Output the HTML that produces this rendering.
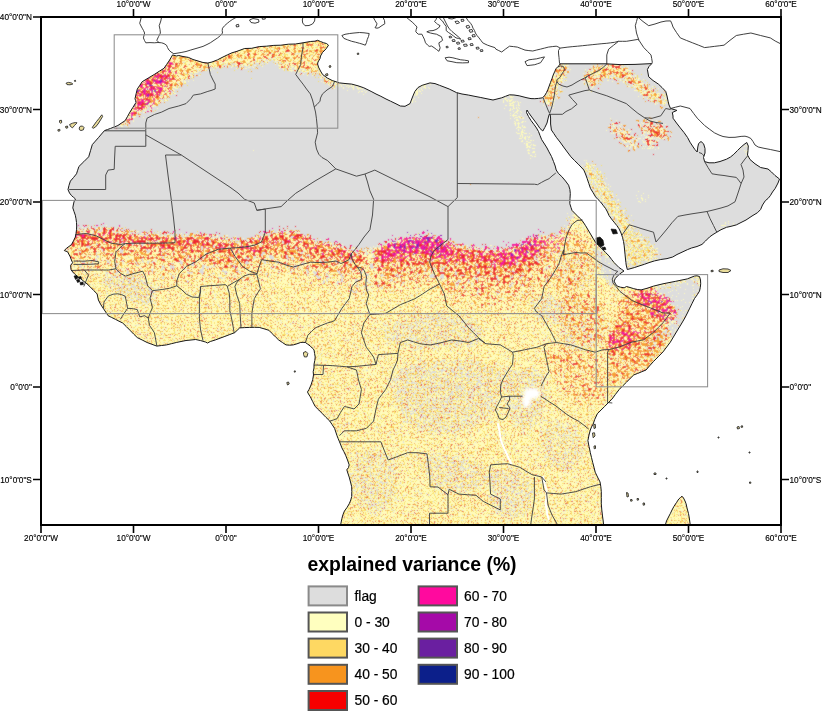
<!DOCTYPE html>
<html><head><meta charset="utf-8"><title>explained variance map</title>
<style>html,body{margin:0;padding:0;background:#fff;}svg{display:block;}</style>
</head><body><svg width="822" height="713" viewBox="0 0 822 713"><defs><clipPath id="cf"><rect x="41" y="17" width="740" height="508"/></clipPath><filter id="soft" x="0" y="0" width="822" height="713" filterUnits="userSpaceOnUse"><feConvolveMatrix order="3" kernelMatrix="1 2 1 2 14 2 1 2 1" edgeMode="none"/></filter><filter id="lk" x="500" y="370" width="60" height="50" filterUnits="userSpaceOnUse"><feGaussianBlur stdDeviation="1.5"/></filter><clipPath id="cl"><path d="M172.6,54.9 L176.3,56.0 L178.7,55.5 L183.0,56.5 L188.4,57.4 L193.0,59.5 L198.1,61.0 L203.0,62.5 L207.9,63.0 L212.0,62.0 L217.6,59.8 L222.0,57.5 L227.3,54.9 L232.0,52.8 L237.0,51.3 L244.6,48.5 L251.7,48.3 L259.2,46.6 L266.3,46.2 L273.8,45.4 L280.9,45.2 L288.4,44.2 L295.5,44.0 L303.0,42.8 L310.3,41.5 L314.9,41.2 L317.6,40.3 L320.5,41.5 L323.7,42.8 L326.5,43.5 L328.5,45.2 L326.1,48.8 L322.5,52.5 L320.5,56.0 L320.0,58.6 L318.0,62.0 L317.6,64.0 L318.5,67.1 L320.5,71.0 L322.5,74.4 L327.3,78.0 L332.2,80.5 L339.5,82.9 L345.0,83.5 L351.7,84.1 L358.0,85.8 L363.8,87.8 L371.1,91.4 L376.0,94.0 L380.9,96.3 L386.0,99.0 L390.6,101.2 L396.0,103.8 L400.3,106.0 L405.0,106.3 L410.0,103.6 L412.5,97.0 L414.9,91.4 L418.0,87.5 L422.2,85.3 L430.0,82.9 L435.0,83.6 L439.5,85.3 L444.0,87.0 L449.2,89.0 L456.5,92.6 L462.0,94.0 L468.7,95.1 L474.0,96.2 L480.8,97.5 L487.0,98.8 L493.0,100.0 L497.0,99.0 L501.7,97.8 L505.5,96.3 L509.5,94.8 L514.0,95.0 L519.2,95.8 L523.0,96.8 L527.0,97.8 L531.0,98.6 L534.8,98.7 L538.5,98.4 L542.6,97.8 L545.0,95.1 L546.5,92.5 L547.8,89.7 L549.2,86.0 L550.5,82.4 L552.0,78.5 L553.2,75.0 L554.6,71.8 L556.0,68.7 L558.0,66.5 L559.6,65.0 L560.0,63.8 L575.0,63.8 L590.0,63.8 L606.0,63.8 L620.0,64.6 L635.0,64.4 L651.8,63.6 L649.0,66.5 L647.4,69.5 L648.0,73.0 L648.7,76.8 L653.0,80.5 L658.4,84.1 L662.0,87.5 L665.7,91.4 L667.0,96.0 L668.1,101.2 L669.0,105.0 L670.6,108.5 L676.9,110.4 L672.3,112.5 L673.0,116.0 L673.0,118.2 L676.5,123.0 L680.3,127.9 L684.0,132.5 L687.6,137.6 L690.0,142.2 L692.5,146.0 L694.9,149.5 L697.2,152.0 L697.8,147.0 L698.6,143.5 L701.0,141.5 L703.6,143.8 L705.0,148.5 L705.0,153.0 L703.5,157.5 L704.6,161.6 L709.0,162.8 L714.4,162.8 L720.0,161.5 L726.5,159.2 L730.5,157.0 L733.8,154.3 L737.5,150.5 L741.1,147.0 L744.0,144.5 L746.8,142.5 L748.3,146.0 L748.0,150.5 L747.5,155.0 L750.0,159.5 L755.0,163.8 L760.6,167.5 L765.0,168.4 L768.0,169.0 L771.5,172.0 L775.0,175.5 L779.5,179.0 L778.0,183.0 L775.2,188.4 L772.5,192.0 L770.3,195.7 L768.0,198.5 L765.4,200.6 L762.5,205.0 L760.6,209.5 L757.5,212.7 L752.0,216.0 L746.0,220.0 L741.0,222.5 L736.3,224.9 L731.0,226.3 L726.5,227.3 L721.0,229.7 L716.8,232.2 L713.0,234.5 L709.5,237.0 L705.5,241.0 L702.0,244.4 L697.0,246.5 L691.5,248.0 L687.3,249.7 L682.0,252.2 L677.0,254.5 L672.7,257.0 L667.0,258.6 L660.8,259.5 L654.5,260.9 L649.0,262.6 L644.4,264.3 L639.0,266.0 L634.3,267.6 L630.0,268.8 L627.3,269.5 L626.2,265.0 L625.9,262.6 L625.4,258.0 L625.0,254.2 L624.6,250.0 L624.2,245.8 L623.5,241.5 L622.5,237.3 L621.0,233.0 L619.1,228.9 L616.8,225.5 L614.1,222.2 L611.5,219.0 L609.0,215.5 L607.5,212.0 L605.7,208.7 L603.0,205.2 L600.6,202.0 L598.0,199.5 L595.6,196.9 L593.0,192.5 L590.5,188.5 L588.8,183.5 L587.1,178.4 L585.5,174.0 L583.8,170.0 L581.0,167.0 L578.2,164.1 L574.5,160.5 L570.9,156.8 L567.3,152.0 L563.6,147.0 L560.0,142.0 L556.3,137.3 L553.8,133.5 L551.4,130.0 L550.6,124.0 L550.6,118.0 L550.2,114.6 L549.2,114.4 L548.2,118.0 L547.0,123.0 L544.8,127.5 L542.8,131.0 L540.0,128.5 L537.0,124.0 L534.0,120.0 L531.0,116.0 L528.5,112.5 L527.0,110.0 L526.5,112.5 L528.5,116.5 L531.0,120.5 L534.0,124.5 L536.5,128.0 L538.5,131.5 L540.0,135.5 L541.7,139.7 L544.5,144.0 L547.0,148.0 L549.0,151.9 L551.5,156.5 L553.5,161.5 L555.2,166.0 L556.2,170.0 L558.5,173.5 L561.9,176.7 L565.5,181.0 L568.6,185.2 L569.9,189.5 L570.3,193.6 L570.0,198.5 L569.8,203.7 L571.0,207.5 L572.0,210.4 L574.5,213.0 L577.0,215.5 L579.5,218.0 L582.1,220.5 L583.8,223.0 L585.5,225.6 L588.0,229.8 L590.5,234.0 L593.0,238.2 L595.6,242.4 L599.0,245.8 L602.3,249.1 L605.6,252.5 L609.0,255.9 L611.5,259.3 L614.1,262.6 L616.6,265.1 L619.1,267.6 L621.6,269.3 L624.0,271.0 L621.0,273.0 L617.4,276.0 L615.3,278.5 L614.1,281.1 L615.5,284.0 L617.4,286.2 L620.5,287.2 L624.2,287.8 L626.5,286.5 L630.0,287.5 L633.8,288.7 L637.5,289.5 L641.1,289.9 L647.0,288.3 L653.3,286.2 L658.0,285.0 L663.0,283.8 L669.0,282.6 L675.2,281.4 L681.0,280.2 L687.3,278.9 L691.0,277.4 L694.6,276.0 L697.0,275.8 L699.5,276.5 L700.5,280.0 L700.7,283.8 L700.3,287.5 L699.5,291.1 L697.3,294.7 L694.6,298.4 L692.2,303.2 L689.8,308.1 L687.4,313.0 L684.9,317.9 L681.3,324.0 L677.6,330.0 L674.0,336.0 L670.3,342.2 L666.7,347.0 L663.0,351.9 L658.2,356.8 L653.3,361.7 L649.6,365.8 L646.0,370.0 L641.1,372.0 L637.5,373.5 L633.8,374.9 L630.1,378.5 L626.5,382.2 L622.8,385.8 L619.2,389.5 L615.5,394.3 L611.9,399.2 L608.2,402.8 L604.6,406.5 L601.0,410.0 L597.3,413.8 L594.7,419.5 L593.2,424.0 L591.5,427.0 L590.3,430.0 L589.0,435.0 L587.9,440.6 L589.0,446.5 L589.8,450.0 L590.3,452.7 L591.5,457.5 L592.7,462.5 L594.0,467.3 L595.2,472.2 L597.5,477.0 L600.0,481.9 L600.8,486.5 L601.3,491.7 L601.3,497.5 L601.3,503.8 L601.8,510.0 L602.5,516.0 L603.2,521.0 L603.7,526.0 L340.5,526.0 L340.7,524.5 L341.9,518.4 L343.0,514.5 L344.4,511.1 L347.0,507.5 L349.2,503.8 L350.8,500.0 L351.7,496.5 L351.8,491.5 L351.7,486.8 L350.5,482.0 L349.2,477.1 L347.8,473.0 L346.8,469.8 L348.5,467.5 L349.2,464.9 L347.5,460.0 L345.6,455.2 L343.8,451.5 L341.9,447.9 L340.8,445.0 L339.5,441.8 L338.2,438.7 L337.0,435.7 L335.8,432.0 L334.6,428.4 L332.2,424.7 L329.8,421.1 L326.0,417.4 L322.5,413.8 L318.8,410.0 L315.2,406.5 L312.7,401.6 L310.3,396.8 L308.5,394.0 L307.5,392.0 L309.0,389.5 L311.0,385.0 L312.7,379.7 L313.5,375.0 L313.2,371.7 L314.0,368.0 L314.0,364.4 L314.8,360.5 L315.2,357.0 L314.6,353.5 L314.0,349.8 L312.2,348.0 L310.3,346.1 L307.8,344.2 L305.4,342.5 L303.0,342.3 L300.6,342.5 L297.0,343.8 L293.3,344.9 L289.6,345.2 L286.0,344.9 L282.4,342.5 L278.7,340.0 L276.2,337.6 L273.8,335.2 L271.3,332.8 L268.9,330.3 L264.0,328.8 L259.2,327.4 L254.4,327.3 L249.5,327.4 L244.6,327.6 L239.7,327.9 L237.2,330.3 L234.6,332.7 L229.8,334.5 L224.9,336.4 L220.0,338.2 L215.2,340.0 L210.3,341.5 L207.5,343.0 L205.5,342.0 L200.6,340.6 L195.7,339.5 L191.0,340.0 L186.0,340.5 L181.0,341.5 L176.3,342.5 L171.4,343.7 L166.5,344.9 L161.6,345.5 L156.8,346.1 L151.9,344.3 L147.1,342.5 L142.2,340.0 L137.3,337.6 L133.6,334.0 L130.0,330.3 L126.3,326.6 L122.7,323.0 L119.0,321.2 L115.4,319.3 L111.7,317.5 L108.1,315.7 L105.7,312.0 L103.3,308.4 L100.8,304.7 L98.4,300.0 L97.1,293.9 L93.7,290.5 L90.4,287.1 L87.0,283.8 L84.0,281.5 L80.5,278.5 L77.5,276.5 L75.2,274.5 L72.7,272.0 L71.0,269.5 L70.6,265.3 L72.7,262.7 L71.8,261.0 L70.2,256.8 L67.6,251.8 L64.3,250.6 L66.5,248.2 L69.0,246.5 L71.6,244.4 L73.5,240.8 L75.3,237.1 L76.0,233.5 L76.5,229.8 L76.7,226.0 L76.5,222.5 L76.0,218.8 L75.3,215.2 L74.0,211.5 L72.8,207.9 L73.3,205.0 L74.0,201.8 L75.5,199.0 L73.5,197.3 L71.6,195.7 L69.5,193.0 L68.0,189.6 L69.0,185.3 L70.4,181.1 L73.5,177.5 L76.5,173.8 L77.7,170.2 L78.9,166.5 L83.8,161.7 L88.7,156.8 L90.5,150.7 L92.3,144.6 L95.4,141.1 L98.4,137.7 L101.5,134.0 L104.5,130.6 L107.5,129.5 L110.6,128.4 L114.2,127.0 L117.9,125.5 L121.5,123.0 L125.2,120.6 L127.6,116.3 L130.0,112.0 L133.0,107.2 L136.0,102.4 L135.5,100.5 L135.0,98.7 L136.1,93.8 L137.3,89.0 L139.8,85.3 L142.2,81.7 L148.3,78.0 L154.4,74.4 L159.2,71.3 L164.0,68.3 L166.5,64.6 L169.0,61.0 L170.8,58.0 L172.6,54.9Z"/><path d="M665.0,526.0 L666.5,521.0 L668.5,517.0 L670.3,513.6 L672.0,510.0 L674.0,506.3 L676.5,502.5 L678.8,499.0 L680.5,497.5 L682.0,496.2 L683.5,498.0 L685.0,501.0 L686.1,503.8 L687.0,508.0 L688.5,513.6 L689.3,518.0 L690.2,524.5 L690.5,526.0 L690.5,530.0 L665.0,530.0Z"/></clipPath><filter id="tb" x="-40" y="-40" width="900" height="800" filterUnits="userSpaceOnUse" color-interpolation-filters="sRGB"><feGaussianBlur in="SourceGraphic" stdDeviation="2.5" result="d"/><feTurbulence type="fractalNoise" baseFrequency="0.6" numOctaves="2" seed="11" result="n"/><feColorMatrix in="n" type="matrix" values="1 0 0 0 0 1 0 0 0 0 1 0 0 0 0 0 0 0 0 1" result="gr"/><feComponentTransfer in="gr" result="u"><feFuncR type="table" tableValues="0.0 0.0 0.0 0.0 0.0001 0.0005 0.002 0.0058 0.0146 0.0311 0.0582 0.0982 0.1508 0.2167 0.2968 0.3926 0.4938 0.6107 0.7058 0.7847 0.8488 0.9001 0.9388 0.9662 0.9844 0.9937 0.9977 0.9994 0.9999 1.0 1.0 1.0 1.0"/></feComponentTransfer><feComposite in="u" in2="d" operator="arithmetic" k1="0" k2="0.5" k3="0.5" k4="0" result="s"/><feComponentTransfer in="s" result="m"><feFuncR type="discrete" tableValues="0 1"/></feComponentTransfer><feColorMatrix in="m" type="matrix" values="0 0 0 0 1.000 0 0 0 0 0.988 0 0 0 0 0.737 1 0 0 0 0" result="c"/></filter><filter id="ty" x="-40" y="-40" width="900" height="800" filterUnits="userSpaceOnUse" color-interpolation-filters="sRGB"><feGaussianBlur in="SourceGraphic" stdDeviation="3" result="d"/><feTurbulence type="fractalNoise" baseFrequency="0.7" numOctaves="2" seed="23" result="n"/><feColorMatrix in="n" type="matrix" values="1 0 0 0 0 1 0 0 0 0 1 0 0 0 0 0 0 0 0 1" result="gr"/><feComponentTransfer in="gr" result="u"><feFuncR type="table" tableValues="0.0 0.0 0.0 0.0 0.0001 0.0005 0.002 0.0058 0.0146 0.0311 0.0582 0.0982 0.1508 0.2167 0.2968 0.3926 0.4938 0.6107 0.7058 0.7847 0.8488 0.9001 0.9388 0.9662 0.9844 0.9937 0.9977 0.9994 0.9999 1.0 1.0 1.0 1.0"/></feComponentTransfer><feComposite in="u" in2="d" operator="arithmetic" k1="0" k2="0.5" k3="0.5" k4="0" result="s"/><feComponentTransfer in="s" result="m"><feFuncR type="discrete" tableValues="0 1"/></feComponentTransfer><feColorMatrix in="m" type="matrix" values="0 0 0 0 0.976 0 0 0 0 0.878 0 0 0 0 0.392 1 0 0 0 0" result="c"/></filter><filter id="tof" x="-40" y="-40" width="900" height="800" filterUnits="userSpaceOnUse" color-interpolation-filters="sRGB"><feGaussianBlur in="SourceGraphic" stdDeviation="3" result="d"/><feTurbulence type="fractalNoise" baseFrequency="0.7" numOctaves="2" seed="31" result="n"/><feColorMatrix in="n" type="matrix" values="1 0 0 0 0 1 0 0 0 0 1 0 0 0 0 0 0 0 0 1" result="gr"/><feComponentTransfer in="gr" result="u"><feFuncR type="table" tableValues="0.0 0.0 0.0 0.0 0.0001 0.0005 0.002 0.0058 0.0146 0.0311 0.0582 0.0982 0.1508 0.2167 0.2968 0.3926 0.4938 0.6107 0.7058 0.7847 0.8488 0.9001 0.9388 0.9662 0.9844 0.9937 0.9977 0.9994 0.9999 1.0 1.0 1.0 1.0"/></feComponentTransfer><feComposite in="u" in2="d" operator="arithmetic" k1="0" k2="0.5" k3="0.5" k4="0" result="s"/><feComponentTransfer in="s" result="m"><feFuncR type="discrete" tableValues="0 1"/></feComponentTransfer><feColorMatrix in="m" type="matrix" values="0 0 0 0 0.941 0 0 0 0 0.604 0 0 0 0 0.235 1 0 0 0 0" result="c"/></filter><filter id="trf" x="-40" y="-40" width="900" height="800" filterUnits="userSpaceOnUse" color-interpolation-filters="sRGB"><feGaussianBlur in="SourceGraphic" stdDeviation="3" result="d"/><feTurbulence type="fractalNoise" baseFrequency="0.7" numOctaves="2" seed="41" result="n"/><feColorMatrix in="n" type="matrix" values="1 0 0 0 0 1 0 0 0 0 1 0 0 0 0 0 0 0 0 1" result="gr"/><feComponentTransfer in="gr" result="u"><feFuncR type="table" tableValues="0.0 0.0 0.0 0.0 0.0001 0.0005 0.002 0.0058 0.0146 0.0311 0.0582 0.0982 0.1508 0.2167 0.2968 0.3926 0.4938 0.6107 0.7058 0.7847 0.8488 0.9001 0.9388 0.9662 0.9844 0.9937 0.9977 0.9994 0.9999 1.0 1.0 1.0 1.0"/></feComponentTransfer><feComposite in="u" in2="d" operator="arithmetic" k1="0" k2="0.5" k3="0.5" k4="0" result="s"/><feComponentTransfer in="s" result="m"><feFuncR type="discrete" tableValues="0 1"/></feComponentTransfer><feColorMatrix in="m" type="matrix" values="0 0 0 0 0.910 0 0 0 0 0.220 0 0 0 0 0.227 1 0 0 0 0" result="c"/></filter><filter id="tgf" x="-40" y="-40" width="900" height="800" filterUnits="userSpaceOnUse" color-interpolation-filters="sRGB"><feGaussianBlur in="SourceGraphic" stdDeviation="3" result="d"/><feTurbulence type="fractalNoise" baseFrequency="0.6" numOctaves="2" seed="47" result="n"/><feColorMatrix in="n" type="matrix" values="1 0 0 0 0 1 0 0 0 0 1 0 0 0 0 0 0 0 0 1" result="gr"/><feComponentTransfer in="gr" result="u"><feFuncR type="table" tableValues="0.0 0.0 0.0 0.0 0.0001 0.0005 0.002 0.0058 0.0146 0.0311 0.0582 0.0982 0.1508 0.2167 0.2968 0.3926 0.4938 0.6107 0.7058 0.7847 0.8488 0.9001 0.9388 0.9662 0.9844 0.9937 0.9977 0.9994 0.9999 1.0 1.0 1.0 1.0"/></feComponentTransfer><feComposite in="u" in2="d" operator="arithmetic" k1="0" k2="0.5" k3="0.5" k4="0" result="s"/><feComponentTransfer in="s" result="m"><feFuncR type="discrete" tableValues="0 1"/></feComponentTransfer><feColorMatrix in="m" type="matrix" values="0 0 0 0 0.863 0 0 0 0 0.863 0 0 0 0 0.863 1 0 0 0 0" result="c"/></filter><filter id="tgb" x="-40" y="-40" width="900" height="800" filterUnits="userSpaceOnUse" color-interpolation-filters="sRGB"><feGaussianBlur in="SourceGraphic" stdDeviation="3" result="d"/><feTurbulence type="fractalNoise" baseFrequency="0.2" numOctaves="3" seed="61" result="n"/><feColorMatrix in="n" type="matrix" values="1 0 0 0 0 1 0 0 0 0 1 0 0 0 0 0 0 0 0 1" result="gr"/><feComponentTransfer in="gr" result="u"><feFuncR type="table" tableValues="0.0 0.0 0.0 0.0 0.0002 0.0008 0.0027 0.0074 0.0172 0.035 0.0635 0.1027 0.1556 0.2221 0.3022 0.396 0.4906 0.6077 0.7002 0.7796 0.8436 0.8954 0.9341 0.9626 0.981 0.9916 0.9968 0.999 0.9997 0.9999 1.0 1.0 1.0"/></feComponentTransfer><feComposite in="u" in2="d" operator="arithmetic" k1="0" k2="0.5" k3="0.5" k4="0" result="s"/><feComponentTransfer in="s" result="m"><feFuncR type="discrete" tableValues="0 1"/></feComponentTransfer><feColorMatrix in="m" type="matrix" values="0 0 0 0 0.863 0 0 0 0 0.863 0 0 0 0 0.863 1 0 0 0 0" result="c"/></filter><filter id="to" x="-40" y="-40" width="900" height="800" filterUnits="userSpaceOnUse" color-interpolation-filters="sRGB"><feGaussianBlur in="SourceGraphic" stdDeviation="3" result="d"/><feTurbulence type="fractalNoise" baseFrequency="0.3" numOctaves="3" seed="37" result="n"/><feColorMatrix in="n" type="matrix" values="1 0 0 0 0 1 0 0 0 0 1 0 0 0 0 0 0 0 0 1" result="gr"/><feComponentTransfer in="gr" result="u"><feFuncR type="table" tableValues="0.0 0.0 0.0 0.0 0.0002 0.0008 0.0027 0.0074 0.0172 0.035 0.0635 0.1027 0.1556 0.2221 0.3022 0.396 0.4906 0.6077 0.7002 0.7796 0.8436 0.8954 0.9341 0.9626 0.981 0.9916 0.9968 0.999 0.9997 0.9999 1.0 1.0 1.0"/></feComponentTransfer><feComposite in="u" in2="d" operator="arithmetic" k1="0" k2="0.5" k3="0.5" k4="0" result="s"/><feComponentTransfer in="s" result="m"><feFuncR type="discrete" tableValues="0 1"/></feComponentTransfer><feColorMatrix in="m" type="matrix" values="0 0 0 0 0.965 0 0 0 0 0.627 0 0 0 0 0.208 1 0 0 0 0" result="c"/></filter><filter id="tr" x="-40" y="-40" width="900" height="800" filterUnits="userSpaceOnUse" color-interpolation-filters="sRGB"><feGaussianBlur in="SourceGraphic" stdDeviation="3" result="d"/><feTurbulence type="fractalNoise" baseFrequency="0.32" numOctaves="3" seed="53" result="n"/><feColorMatrix in="n" type="matrix" values="1 0 0 0 0 1 0 0 0 0 1 0 0 0 0 0 0 0 0 1" result="gr"/><feComponentTransfer in="gr" result="u"><feFuncR type="table" tableValues="0.0 0.0 0.0 0.0 0.0002 0.0008 0.0027 0.0074 0.0172 0.035 0.0635 0.1027 0.1556 0.2221 0.3022 0.396 0.4906 0.6077 0.7002 0.7796 0.8436 0.8954 0.9341 0.9626 0.981 0.9916 0.9968 0.999 0.9997 0.9999 1.0 1.0 1.0"/></feComponentTransfer><feComposite in="u" in2="d" operator="arithmetic" k1="0" k2="0.5" k3="0.5" k4="0" result="s"/><feComponentTransfer in="s" result="m"><feFuncR type="discrete" tableValues="0 1"/></feComponentTransfer><feColorMatrix in="m" type="matrix" values="0 0 0 0 0.933 0 0 0 0 0.165 0 0 0 0 0.188 1 0 0 0 0" result="c"/></filter><filter id="tm" x="-40" y="-40" width="900" height="800" filterUnits="userSpaceOnUse" color-interpolation-filters="sRGB"><feGaussianBlur in="SourceGraphic" stdDeviation="3" result="d"/><feTurbulence type="fractalNoise" baseFrequency="0.32" numOctaves="3" seed="71" result="n"/><feColorMatrix in="n" type="matrix" values="1 0 0 0 0 1 0 0 0 0 1 0 0 0 0 0 0 0 0 1" result="gr"/><feComponentTransfer in="gr" result="u"><feFuncR type="table" tableValues="0.0 0.0 0.0 0.0 0.0002 0.0008 0.0027 0.0074 0.0172 0.035 0.0635 0.1027 0.1556 0.2221 0.3022 0.396 0.4906 0.6077 0.7002 0.7796 0.8436 0.8954 0.9341 0.9626 0.981 0.9916 0.9968 0.999 0.9997 0.9999 1.0 1.0 1.0"/></feComponentTransfer><feComposite in="u" in2="d" operator="arithmetic" k1="0" k2="0.5" k3="0.5" k4="0" result="s"/><feComponentTransfer in="s" result="m"><feFuncR type="discrete" tableValues="0 1"/></feComponentTransfer><feColorMatrix in="m" type="matrix" values="0 0 0 0 0.957 0 0 0 0 0.110 0 0 0 0 0.612 1 0 0 0 0" result="c"/></filter><filter id="tp" x="-40" y="-40" width="900" height="800" filterUnits="userSpaceOnUse" color-interpolation-filters="sRGB"><feGaussianBlur in="SourceGraphic" stdDeviation="3" result="d"/><feTurbulence type="fractalNoise" baseFrequency="0.3" numOctaves="3" seed="89" result="n"/><feColorMatrix in="n" type="matrix" values="1 0 0 0 0 1 0 0 0 0 1 0 0 0 0 0 0 0 0 1" result="gr"/><feComponentTransfer in="gr" result="u"><feFuncR type="table" tableValues="0.0 0.0 0.0 0.0 0.0002 0.0008 0.0027 0.0074 0.0172 0.035 0.0635 0.1027 0.1556 0.2221 0.3022 0.396 0.4906 0.6077 0.7002 0.7796 0.8436 0.8954 0.9341 0.9626 0.981 0.9916 0.9968 0.999 0.9997 0.9999 1.0 1.0 1.0"/></feComponentTransfer><feComposite in="u" in2="d" operator="arithmetic" k1="0" k2="0.5" k3="0.5" k4="0" result="s"/><feComponentTransfer in="s" result="m"><feFuncR type="discrete" tableValues="0 1"/></feComponentTransfer><feColorMatrix in="m" type="matrix" values="0 0 0 0 0.565 0 0 0 0 0.141 0 0 0 0 0.722 1 0 0 0 0" result="c"/></filter></defs><g clip-path="url(#cf)"><path d="M172.6,54.9 L176.3,56.0 L178.7,55.5 L183.0,56.5 L188.4,57.4 L193.0,59.5 L198.1,61.0 L203.0,62.5 L207.9,63.0 L212.0,62.0 L217.6,59.8 L222.0,57.5 L227.3,54.9 L232.0,52.8 L237.0,51.3 L244.6,48.5 L251.7,48.3 L259.2,46.6 L266.3,46.2 L273.8,45.4 L280.9,45.2 L288.4,44.2 L295.5,44.0 L303.0,42.8 L310.3,41.5 L314.9,41.2 L317.6,40.3 L320.5,41.5 L323.7,42.8 L326.5,43.5 L328.5,45.2 L326.1,48.8 L322.5,52.5 L320.5,56.0 L320.0,58.6 L318.0,62.0 L317.6,64.0 L318.5,67.1 L320.5,71.0 L322.5,74.4 L327.3,78.0 L332.2,80.5 L339.5,82.9 L345.0,83.5 L351.7,84.1 L358.0,85.8 L363.8,87.8 L371.1,91.4 L376.0,94.0 L380.9,96.3 L386.0,99.0 L390.6,101.2 L396.0,103.8 L400.3,106.0 L405.0,106.3 L410.0,103.6 L412.5,97.0 L414.9,91.4 L418.0,87.5 L422.2,85.3 L430.0,82.9 L435.0,83.6 L439.5,85.3 L444.0,87.0 L449.2,89.0 L456.5,92.6 L462.0,94.0 L468.7,95.1 L474.0,96.2 L480.8,97.5 L487.0,98.8 L493.0,100.0 L497.0,99.0 L501.7,97.8 L505.5,96.3 L509.5,94.8 L514.0,95.0 L519.2,95.8 L523.0,96.8 L527.0,97.8 L531.0,98.6 L534.8,98.7 L538.5,98.4 L542.6,97.8 L545.0,95.1 L546.5,92.5 L547.8,89.7 L549.2,86.0 L550.5,82.4 L552.0,78.5 L553.2,75.0 L554.6,71.8 L556.0,68.7 L558.0,66.5 L559.6,65.0 L560.0,63.8 L575.0,63.8 L590.0,63.8 L606.0,63.8 L620.0,64.6 L635.0,64.4 L651.8,63.6 L649.0,66.5 L647.4,69.5 L648.0,73.0 L648.7,76.8 L653.0,80.5 L658.4,84.1 L662.0,87.5 L665.7,91.4 L667.0,96.0 L668.1,101.2 L669.0,105.0 L670.6,108.5 L676.9,110.4 L672.3,112.5 L673.0,116.0 L673.0,118.2 L676.5,123.0 L680.3,127.9 L684.0,132.5 L687.6,137.6 L690.0,142.2 L692.5,146.0 L694.9,149.5 L697.2,152.0 L697.8,147.0 L698.6,143.5 L701.0,141.5 L703.6,143.8 L705.0,148.5 L705.0,153.0 L703.5,157.5 L704.6,161.6 L709.0,162.8 L714.4,162.8 L720.0,161.5 L726.5,159.2 L730.5,157.0 L733.8,154.3 L737.5,150.5 L741.1,147.0 L744.0,144.5 L746.8,142.5 L748.3,146.0 L748.0,150.5 L747.5,155.0 L750.0,159.5 L755.0,163.8 L760.6,167.5 L765.0,168.4 L768.0,169.0 L771.5,172.0 L775.0,175.5 L779.5,179.0 L778.0,183.0 L775.2,188.4 L772.5,192.0 L770.3,195.7 L768.0,198.5 L765.4,200.6 L762.5,205.0 L760.6,209.5 L757.5,212.7 L752.0,216.0 L746.0,220.0 L741.0,222.5 L736.3,224.9 L731.0,226.3 L726.5,227.3 L721.0,229.7 L716.8,232.2 L713.0,234.5 L709.5,237.0 L705.5,241.0 L702.0,244.4 L697.0,246.5 L691.5,248.0 L687.3,249.7 L682.0,252.2 L677.0,254.5 L672.7,257.0 L667.0,258.6 L660.8,259.5 L654.5,260.9 L649.0,262.6 L644.4,264.3 L639.0,266.0 L634.3,267.6 L630.0,268.8 L627.3,269.5 L626.2,265.0 L625.9,262.6 L625.4,258.0 L625.0,254.2 L624.6,250.0 L624.2,245.8 L623.5,241.5 L622.5,237.3 L621.0,233.0 L619.1,228.9 L616.8,225.5 L614.1,222.2 L611.5,219.0 L609.0,215.5 L607.5,212.0 L605.7,208.7 L603.0,205.2 L600.6,202.0 L598.0,199.5 L595.6,196.9 L593.0,192.5 L590.5,188.5 L588.8,183.5 L587.1,178.4 L585.5,174.0 L583.8,170.0 L581.0,167.0 L578.2,164.1 L574.5,160.5 L570.9,156.8 L567.3,152.0 L563.6,147.0 L560.0,142.0 L556.3,137.3 L553.8,133.5 L551.4,130.0 L550.6,124.0 L550.6,118.0 L550.2,114.6 L549.2,114.4 L548.2,118.0 L547.0,123.0 L544.8,127.5 L542.8,131.0 L540.0,128.5 L537.0,124.0 L534.0,120.0 L531.0,116.0 L528.5,112.5 L527.0,110.0 L526.5,112.5 L528.5,116.5 L531.0,120.5 L534.0,124.5 L536.5,128.0 L538.5,131.5 L540.0,135.5 L541.7,139.7 L544.5,144.0 L547.0,148.0 L549.0,151.9 L551.5,156.5 L553.5,161.5 L555.2,166.0 L556.2,170.0 L558.5,173.5 L561.9,176.7 L565.5,181.0 L568.6,185.2 L569.9,189.5 L570.3,193.6 L570.0,198.5 L569.8,203.7 L571.0,207.5 L572.0,210.4 L574.5,213.0 L577.0,215.5 L579.5,218.0 L582.1,220.5 L583.8,223.0 L585.5,225.6 L588.0,229.8 L590.5,234.0 L593.0,238.2 L595.6,242.4 L599.0,245.8 L602.3,249.1 L605.6,252.5 L609.0,255.9 L611.5,259.3 L614.1,262.6 L616.6,265.1 L619.1,267.6 L621.6,269.3 L624.0,271.0 L621.0,273.0 L617.4,276.0 L615.3,278.5 L614.1,281.1 L615.5,284.0 L617.4,286.2 L620.5,287.2 L624.2,287.8 L626.5,286.5 L630.0,287.5 L633.8,288.7 L637.5,289.5 L641.1,289.9 L647.0,288.3 L653.3,286.2 L658.0,285.0 L663.0,283.8 L669.0,282.6 L675.2,281.4 L681.0,280.2 L687.3,278.9 L691.0,277.4 L694.6,276.0 L697.0,275.8 L699.5,276.5 L700.5,280.0 L700.7,283.8 L700.3,287.5 L699.5,291.1 L697.3,294.7 L694.6,298.4 L692.2,303.2 L689.8,308.1 L687.4,313.0 L684.9,317.9 L681.3,324.0 L677.6,330.0 L674.0,336.0 L670.3,342.2 L666.7,347.0 L663.0,351.9 L658.2,356.8 L653.3,361.7 L649.6,365.8 L646.0,370.0 L641.1,372.0 L637.5,373.5 L633.8,374.9 L630.1,378.5 L626.5,382.2 L622.8,385.8 L619.2,389.5 L615.5,394.3 L611.9,399.2 L608.2,402.8 L604.6,406.5 L601.0,410.0 L597.3,413.8 L594.7,419.5 L593.2,424.0 L591.5,427.0 L590.3,430.0 L589.0,435.0 L587.9,440.6 L589.0,446.5 L589.8,450.0 L590.3,452.7 L591.5,457.5 L592.7,462.5 L594.0,467.3 L595.2,472.2 L597.5,477.0 L600.0,481.9 L600.8,486.5 L601.3,491.7 L601.3,497.5 L601.3,503.8 L601.8,510.0 L602.5,516.0 L603.2,521.0 L603.7,526.0 L340.5,526.0 L340.7,524.5 L341.9,518.4 L343.0,514.5 L344.4,511.1 L347.0,507.5 L349.2,503.8 L350.8,500.0 L351.7,496.5 L351.8,491.5 L351.7,486.8 L350.5,482.0 L349.2,477.1 L347.8,473.0 L346.8,469.8 L348.5,467.5 L349.2,464.9 L347.5,460.0 L345.6,455.2 L343.8,451.5 L341.9,447.9 L340.8,445.0 L339.5,441.8 L338.2,438.7 L337.0,435.7 L335.8,432.0 L334.6,428.4 L332.2,424.7 L329.8,421.1 L326.0,417.4 L322.5,413.8 L318.8,410.0 L315.2,406.5 L312.7,401.6 L310.3,396.8 L308.5,394.0 L307.5,392.0 L309.0,389.5 L311.0,385.0 L312.7,379.7 L313.5,375.0 L313.2,371.7 L314.0,368.0 L314.0,364.4 L314.8,360.5 L315.2,357.0 L314.6,353.5 L314.0,349.8 L312.2,348.0 L310.3,346.1 L307.8,344.2 L305.4,342.5 L303.0,342.3 L300.6,342.5 L297.0,343.8 L293.3,344.9 L289.6,345.2 L286.0,344.9 L282.4,342.5 L278.7,340.0 L276.2,337.6 L273.8,335.2 L271.3,332.8 L268.9,330.3 L264.0,328.8 L259.2,327.4 L254.4,327.3 L249.5,327.4 L244.6,327.6 L239.7,327.9 L237.2,330.3 L234.6,332.7 L229.8,334.5 L224.9,336.4 L220.0,338.2 L215.2,340.0 L210.3,341.5 L207.5,343.0 L205.5,342.0 L200.6,340.6 L195.7,339.5 L191.0,340.0 L186.0,340.5 L181.0,341.5 L176.3,342.5 L171.4,343.7 L166.5,344.9 L161.6,345.5 L156.8,346.1 L151.9,344.3 L147.1,342.5 L142.2,340.0 L137.3,337.6 L133.6,334.0 L130.0,330.3 L126.3,326.6 L122.7,323.0 L119.0,321.2 L115.4,319.3 L111.7,317.5 L108.1,315.7 L105.7,312.0 L103.3,308.4 L100.8,304.7 L98.4,300.0 L97.1,293.9 L93.7,290.5 L90.4,287.1 L87.0,283.8 L84.0,281.5 L80.5,278.5 L77.5,276.5 L75.2,274.5 L72.7,272.0 L71.0,269.5 L70.6,265.3 L72.7,262.7 L71.8,261.0 L70.2,256.8 L67.6,251.8 L64.3,250.6 L66.5,248.2 L69.0,246.5 L71.6,244.4 L73.5,240.8 L75.3,237.1 L76.0,233.5 L76.5,229.8 L76.7,226.0 L76.5,222.5 L76.0,218.8 L75.3,215.2 L74.0,211.5 L72.8,207.9 L73.3,205.0 L74.0,201.8 L75.5,199.0 L73.5,197.3 L71.6,195.7 L69.5,193.0 L68.0,189.6 L69.0,185.3 L70.4,181.1 L73.5,177.5 L76.5,173.8 L77.7,170.2 L78.9,166.5 L83.8,161.7 L88.7,156.8 L90.5,150.7 L92.3,144.6 L95.4,141.1 L98.4,137.7 L101.5,134.0 L104.5,130.6 L107.5,129.5 L110.6,128.4 L114.2,127.0 L117.9,125.5 L121.5,123.0 L125.2,120.6 L127.6,116.3 L130.0,112.0 L133.0,107.2 L136.0,102.4 L135.5,100.5 L135.0,98.7 L136.1,93.8 L137.3,89.0 L139.8,85.3 L142.2,81.7 L148.3,78.0 L154.4,74.4 L159.2,71.3 L164.0,68.3 L166.5,64.6 L169.0,61.0 L170.8,58.0 L172.6,54.9Z" fill="#dddddd"/><path d="M665.0,526.0 L666.5,521.0 L668.5,517.0 L670.3,513.6 L672.0,510.0 L674.0,506.3 L676.5,502.5 L678.8,499.0 L680.5,497.5 L682.0,496.2 L683.5,498.0 L685.0,501.0 L686.1,503.8 L687.0,508.0 L688.5,513.6 L689.3,518.0 L690.2,524.5 L690.5,526.0 L690.5,530.0 L665.0,530.0Z" fill="#dddddd"/><g clip-path="url(#cl)"><g filter="url(#soft)"><g filter="url(#tb)"><rect x="-40" y="-40" width="900" height="800" fill="#000"/><path d="M30.0,232.0 L60.0,232.0 L74.7,232.3 L84.0,231.0 L94.7,230.5 L104.0,230.0 L113.0,230.5 L124.0,232.5 L134.9,234.1 L149.5,236.0 L158.0,235.5 L167.7,236.0 L177.0,237.0 L186.0,237.8 L197.0,236.0 L206.0,236.5 L215.2,237.8 L222.0,239.5 L229.8,241.4 L237.0,242.0 L244.4,241.4 L252.0,239.5 L259.0,237.8 L268.0,235.5 L277.2,234.1 L286.0,233.0 L295.5,233.0 L304.0,237.0 L313.7,241.4 L323.0,243.5 L332.0,245.1 L340.0,247.0 L348.0,250.5 L356.5,253.3 L365.0,252.0 L374.7,249.6 L384.0,246.5 L393.0,244.1 L402.0,242.0 L411.2,240.5 L420.0,239.5 L429.5,238.7 L437.0,241.0 L444.1,244.1 L451.0,246.0 L458.7,247.8 L466.0,249.0 L473.3,249.6 L480.0,250.5 L487.9,251.4 L495.0,251.8 L502.5,251.4 L510.0,250.0 L517.1,247.8 L524.0,244.0 L531.7,240.5 L539.0,239.2 L546.3,238.7 L553.0,238.0 L560.9,234.8 L566.0,232.0 L569.0,227.0 L571.0,220.0 L574.0,214.0 L579.0,210.0 L586.0,214.0 L592.0,228.0 L600.0,240.0 L608.0,252.0 L614.0,262.0 L622.0,272.0 L640.0,285.0 L700.0,272.0 L730.0,300.0 L730.0,545.0 L25.0,545.0 L25.0,228.0Z" fill="rgb(255,255,255)"/><path d="M122.0,126.0 L130.0,118.0 L140.0,112.0 L148.0,107.0 L157.0,104.0 L165.0,98.0 L172.0,91.0 L178.0,86.0 L186.0,79.0 L196.0,72.0 L205.5,68.0 L215.0,67.0 L225.0,64.7 L232.0,64.0 L244.6,67.0 L254.3,63.4 L266.5,60.0 L273.8,58.0 L279.0,64.7 L288.4,68.3 L295.7,69.5 L303.0,70.7 L310.3,72.0 L317.6,72.0 L322.5,76.8 L327.3,81.7 L333.0,85.0 L336.0,80.0 L332.0,70.0 L330.0,55.0 L330.0,36.0 L170.0,36.0 L160.0,60.0 L140.0,78.0 L125.0,100.0 L115.0,122.0Z" fill="rgb(242,242,242)"/><path d="M334.0,82.0 L340.0,82.5 L350.0,83.5 L360.0,86.0 L368.0,89.5 L364.0,91.5 L352.0,88.0 L340.0,86.0 L334.0,85.0Z" fill="rgb(153,153,153)"/><path d="M409.0,102.0 L411.0,95.0 L414.0,89.0 L418.0,85.5 L425.0,83.0 L430.0,82.5 L429.0,86.5 L424.0,88.0 L419.0,91.0 L416.0,96.0 L413.0,101.0Z" fill="rgb(191,191,191)"/><path d="M500.0,97.0 L512.0,97.0 L518.0,104.0 L521.0,115.0 L523.0,125.0 L528.0,135.0 L533.0,145.0 L535.0,155.0 L531.0,156.0 L527.0,146.0 L521.0,137.0 L516.0,126.0 L513.0,115.0 L508.0,105.0Z" fill="rgb(128,128,128)"/><path d="M543.0,99.0 L546.0,92.0 L549.0,85.0 L552.0,78.0 L555.0,71.0 L559.0,64.0 L568.0,64.0 L566.0,72.0 L562.0,80.0 L558.0,88.0 L556.0,96.0 L552.0,104.0 L547.0,104.0Z" fill="rgb(204,204,204)"/><path d="M589.0,72.0 L594.0,68.7 L602.6,66.0 L611.0,65.0 L619.6,66.0 L628.0,71.0 L636.7,78.0 L645.2,85.0 L652.0,90.0 L658.8,95.0 L665.6,100.0 L667.0,104.5 L660.5,102.8 L650.3,97.7 L640.0,91.0 L631.6,84.0 L621.0,77.3 L611.0,75.6 L599.0,79.0 L589.0,87.5 L585.0,80.0Z" fill="rgb(191,191,191)"/><path d="M606.0,64.5 L621.0,64.5 L622.0,70.5 L607.0,71.0Z" fill="rgb(230,230,230)"/><path d="M582.0,166.0 L588.0,176.0 L594.0,190.0 L602.0,202.0 L611.0,216.0 L619.0,228.0 L624.0,242.0 L627.0,256.0 L628.0,266.0 L636.0,265.0 L648.0,261.0 L658.0,256.0 L652.0,246.0 L642.0,238.0 L633.0,228.0 L624.0,215.0 L614.0,198.0 L606.0,186.0 L598.0,173.0 L590.0,163.0Z" fill="rgb(140,140,140)"/><path d="M640.0,123.0 L650.0,122.0 L662.0,126.0 L668.0,133.0 L664.0,139.0 L655.0,138.0 L646.0,133.0Z" fill="rgb(153,153,153)"/><path d="M640.0,137.0 L648.0,136.0 L656.0,142.0 L655.0,149.0 L646.0,148.0Z" fill="rgb(128,128,128)"/><path d="M609.0,125.0 L616.0,123.5 L624.0,129.0 L631.0,136.0 L638.0,145.0 L633.0,149.0 L624.0,141.0 L615.0,133.0Z" fill="rgb(153,153,153)"/><path d="M638.0,196.0 L643.0,195.0 L645.0,200.0 L640.0,201.0Z" fill="rgb(153,153,153)"/><path d="M743.0,146.0 L748.0,146.0 L750.0,158.0 L746.0,158.0Z" fill="rgb(102,102,102)"/><path d="M718.0,228.0 L725.0,225.0 L736.0,223.0 L738.0,226.0 L726.0,230.0Z" fill="rgb(128,128,128)"/><path d="M665.0,526.0 L670.0,513.0 L678.8,499.0 L682.0,496.2 L686.0,503.0 L689.0,515.0 L691.0,526.0Z" fill="rgb(255,255,255)"/><path d="M413.0,316.0 L440.0,314.0 L470.0,318.0 L482.0,330.0 L478.0,345.0 L455.0,346.0 L430.0,345.0 L414.0,338.0Z" fill="rgb(115,115,115)"/><path d="M528.0,298.0 L550.0,296.0 L574.0,300.0 L578.0,315.0 L560.0,324.0 L538.0,322.0Z" fill="rgb(128,128,128)"/><path d="M560.0,330.0 L585.0,334.0 L596.0,346.0 L585.0,352.0 L565.0,348.0Z" fill="rgb(153,153,153)"/><path d="M104.0,278.0 L118.0,272.0 L135.0,274.0 L150.0,280.0 L156.0,292.0 L152.0,305.0 L142.0,306.0 L128.0,300.0 L114.0,292.0 L104.0,286.0Z" fill="rgb(115,115,115)"/><path d="M380.0,330.0 L400.0,320.0 L430.0,318.0 L460.0,325.0 L480.0,335.0 L470.0,345.0 L440.0,348.0 L410.0,348.0 L390.0,342.0Z" fill="rgb(153,153,153)"/><path d="M392.0,372.0 L420.0,362.0 L460.0,360.0 L500.0,366.0 L505.0,385.0 L495.0,410.0 L470.0,430.0 L440.0,436.0 L410.0,425.0 L395.0,400.0Z" fill="rgb(140,140,140)"/><path d="M505.0,372.0 L520.0,370.0 L545.0,372.0 L548.0,400.0 L540.0,420.0 L525.0,430.0 L510.0,420.0Z" fill="rgb(140,140,140)"/><path d="M420.0,455.0 L450.0,455.0 L480.0,462.0 L490.0,480.0 L470.0,492.0 L440.0,490.0 L425.0,475.0Z" fill="rgb(153,153,153)"/><path d="M355.0,455.0 L380.0,450.0 L400.0,465.0 L395.0,500.0 L375.0,515.0 L358.0,505.0 L352.0,480.0Z" fill="rgb(166,166,166)"/><path d="M545.0,420.0 L575.0,425.0 L585.0,450.0 L570.0,470.0 L550.0,470.0 L540.0,445.0Z" fill="rgb(166,166,166)"/><path d="M488.0,468.0 L520.0,470.0 L535.0,490.0 L525.0,515.0 L500.0,520.0 L490.0,500.0Z" fill="rgb(153,153,153)"/><path d="M560.0,250.0 L585.0,255.0 L595.0,268.0 L590.0,285.0 L575.0,290.0 L560.0,275.0Z" fill="rgb(191,191,191)"/><path d="M560.0,300.0 L590.0,305.0 L605.0,320.0 L600.0,340.0 L580.0,345.0 L565.0,330.0Z" fill="rgb(178,178,178)"/><path d="M596.0,247.0 L602.0,250.0 L608.0,255.0 L614.0,262.0 L620.0,268.0 L625.0,272.0 L622.0,277.0 L617.0,281.0 L618.0,287.0 L613.0,288.0 L607.0,283.0 L603.0,276.0 L600.0,268.0 L597.0,260.0 L594.0,252.0Z" fill="rgb(13,13,13)"/><path d="M650.0,290.0 L660.0,286.0 L670.0,283.0 L685.0,280.0 L697.0,276.0 L702.0,284.0 L700.0,293.0 L695.0,303.0 L689.0,313.0 L684.0,322.0 L678.0,334.0 L672.0,340.0 L668.0,334.0 L670.0,324.0 L675.0,316.0 L673.0,307.0 L666.0,299.0 L657.0,295.0Z" fill="rgb(10,10,10)"/><path d="M656.0,330.0 L664.0,326.0 L670.0,332.0 L664.0,346.0 L656.0,356.0 L648.0,362.0 L646.0,352.0 L650.0,340.0Z" fill="rgb(76,76,76)"/></g><g filter="url(#ty)"><rect x="-40" y="-40" width="900" height="800" fill="#000"/><path d="M30.0,232.0 L60.0,232.0 L74.7,232.3 L84.0,231.0 L94.7,230.5 L104.0,230.0 L113.0,230.5 L124.0,232.5 L134.9,234.1 L149.5,236.0 L158.0,235.5 L167.7,236.0 L177.0,237.0 L186.0,237.8 L197.0,236.0 L206.0,236.5 L215.2,237.8 L222.0,239.5 L229.8,241.4 L237.0,242.0 L244.4,241.4 L252.0,239.5 L259.0,237.8 L268.0,235.5 L277.2,234.1 L286.0,233.0 L295.5,233.0 L304.0,237.0 L313.7,241.4 L323.0,243.5 L332.0,245.1 L340.0,247.0 L348.0,250.5 L356.5,253.3 L365.0,252.0 L374.7,249.6 L384.0,246.5 L393.0,244.1 L402.0,242.0 L411.2,240.5 L420.0,239.5 L429.5,238.7 L437.0,241.0 L444.1,244.1 L451.0,246.0 L458.7,247.8 L466.0,249.0 L473.3,249.6 L480.0,250.5 L487.9,251.4 L495.0,251.8 L502.5,251.4 L510.0,250.0 L517.1,247.8 L524.0,244.0 L531.7,240.5 L539.0,239.2 L546.3,238.7 L553.0,238.0 L560.9,234.8 L566.0,232.0 L569.0,227.0 L571.0,220.0 L574.0,214.0 L579.0,210.0 L586.0,214.0 L592.0,228.0 L600.0,240.0 L608.0,252.0 L614.0,262.0 L622.0,272.0 L640.0,285.0 L700.0,272.0 L730.0,300.0 L730.0,545.0 L25.0,545.0 L25.0,228.0Z" fill="rgb(56,56,56)"/><path d="M122.0,126.0 L130.0,118.0 L140.0,112.0 L148.0,107.0 L157.0,104.0 L165.0,98.0 L172.0,91.0 L178.0,86.0 L186.0,79.0 L196.0,72.0 L205.5,68.0 L215.0,67.0 L225.0,64.7 L232.0,64.0 L244.6,67.0 L254.3,63.4 L266.5,60.0 L273.8,58.0 L279.0,64.7 L288.4,68.3 L295.7,69.5 L303.0,70.7 L310.3,72.0 L317.6,72.0 L322.5,76.8 L327.3,81.7 L333.0,85.0 L336.0,80.0 L332.0,70.0 L330.0,55.0 L330.0,36.0 L170.0,36.0 L160.0,60.0 L140.0,78.0 L125.0,100.0 L115.0,122.0Z" fill="rgb(76,76,76)"/><path d="M543.0,99.0 L546.0,92.0 L549.0,85.0 L552.0,78.0 L555.0,71.0 L559.0,64.0 L568.0,64.0 L566.0,72.0 L562.0,80.0 L558.0,88.0 L556.0,96.0 L552.0,104.0 L547.0,104.0Z" fill="rgb(76,76,76)"/><path d="M589.0,72.0 L594.0,68.7 L602.6,66.0 L611.0,65.0 L619.6,66.0 L628.0,71.0 L636.7,78.0 L645.2,85.0 L652.0,90.0 L658.8,95.0 L665.6,100.0 L667.0,104.5 L660.5,102.8 L650.3,97.7 L640.0,91.0 L631.6,84.0 L621.0,77.3 L611.0,75.6 L599.0,79.0 L589.0,87.5 L585.0,80.0Z" fill="rgb(76,76,76)"/><path d="M582.0,166.0 L588.0,176.0 L594.0,190.0 L602.0,202.0 L611.0,216.0 L619.0,228.0 L624.0,242.0 L627.0,256.0 L628.0,266.0 L636.0,265.0 L648.0,261.0 L658.0,256.0 L652.0,246.0 L642.0,238.0 L633.0,228.0 L624.0,215.0 L614.0,198.0 L606.0,186.0 L598.0,173.0 L590.0,163.0Z" fill="rgb(76,76,76)"/><path d="M665.0,526.0 L670.0,513.0 L678.8,499.0 L682.0,496.2 L686.0,503.0 L689.0,515.0 L691.0,526.0Z" fill="rgb(76,76,76)"/><path d="M596.0,247.0 L602.0,250.0 L608.0,255.0 L614.0,262.0 L620.0,268.0 L625.0,272.0 L622.0,277.0 L617.0,281.0 L618.0,287.0 L613.0,288.0 L607.0,283.0 L603.0,276.0 L600.0,268.0 L597.0,260.0 L594.0,252.0Z" fill="rgb(0,0,0)"/><path d="M650.0,290.0 L660.0,286.0 L670.0,283.0 L685.0,280.0 L697.0,276.0 L702.0,284.0 L700.0,293.0 L695.0,303.0 L689.0,313.0 L684.0,322.0 L678.0,334.0 L672.0,340.0 L668.0,334.0 L670.0,324.0 L675.0,316.0 L673.0,307.0 L666.0,299.0 L657.0,295.0Z" fill="rgb(0,0,0)"/></g><g filter="url(#tof)"><rect x="-40" y="-40" width="900" height="800" fill="#000"/><path d="M30.0,232.0 L60.0,232.0 L74.7,232.3 L84.0,231.0 L94.7,230.5 L104.0,230.0 L113.0,230.5 L124.0,232.5 L134.9,234.1 L149.5,236.0 L158.0,235.5 L167.7,236.0 L177.0,237.0 L186.0,237.8 L197.0,236.0 L206.0,236.5 L215.2,237.8 L222.0,239.5 L229.8,241.4 L237.0,242.0 L244.4,241.4 L252.0,239.5 L259.0,237.8 L268.0,235.5 L277.2,234.1 L286.0,233.0 L295.5,233.0 L304.0,237.0 L313.7,241.4 L323.0,243.5 L332.0,245.1 L340.0,247.0 L348.0,250.5 L356.5,253.3 L365.0,252.0 L374.7,249.6 L384.0,246.5 L393.0,244.1 L402.0,242.0 L411.2,240.5 L420.0,239.5 L429.5,238.7 L437.0,241.0 L444.1,244.1 L451.0,246.0 L458.7,247.8 L466.0,249.0 L473.3,249.6 L480.0,250.5 L487.9,251.4 L495.0,251.8 L502.5,251.4 L510.0,250.0 L517.1,247.8 L524.0,244.0 L531.7,240.5 L539.0,239.2 L546.3,238.7 L553.0,238.0 L560.9,234.8 L566.0,232.0 L569.0,227.0 L571.0,220.0 L574.0,214.0 L579.0,210.0 L586.0,214.0 L592.0,228.0 L600.0,240.0 L608.0,252.0 L614.0,262.0 L622.0,272.0 L640.0,285.0 L700.0,272.0 L730.0,300.0 L730.0,545.0 L25.0,545.0 L25.0,228.0Z" fill="rgb(26,26,26)"/><path d="M665.0,526.0 L670.0,513.0 L678.8,499.0 L682.0,496.2 L686.0,503.0 L689.0,515.0 L691.0,526.0Z" fill="rgb(31,31,31)"/><path d="M596.0,247.0 L602.0,250.0 L608.0,255.0 L614.0,262.0 L620.0,268.0 L625.0,272.0 L622.0,277.0 L617.0,281.0 L618.0,287.0 L613.0,288.0 L607.0,283.0 L603.0,276.0 L600.0,268.0 L597.0,260.0 L594.0,252.0Z" fill="rgb(0,0,0)"/><path d="M650.0,290.0 L660.0,286.0 L670.0,283.0 L685.0,280.0 L697.0,276.0 L702.0,284.0 L700.0,293.0 L695.0,303.0 L689.0,313.0 L684.0,322.0 L678.0,334.0 L672.0,340.0 L668.0,334.0 L670.0,324.0 L675.0,316.0 L673.0,307.0 L666.0,299.0 L657.0,295.0Z" fill="rgb(0,0,0)"/></g><g filter="url(#trf)"><rect x="-40" y="-40" width="900" height="800" fill="#000"/><path d="M30.0,232.0 L60.0,232.0 L74.7,232.3 L84.0,231.0 L94.7,230.5 L104.0,230.0 L113.0,230.5 L124.0,232.5 L134.9,234.1 L149.5,236.0 L158.0,235.5 L167.7,236.0 L177.0,237.0 L186.0,237.8 L197.0,236.0 L206.0,236.5 L215.2,237.8 L222.0,239.5 L229.8,241.4 L237.0,242.0 L244.4,241.4 L252.0,239.5 L259.0,237.8 L268.0,235.5 L277.2,234.1 L286.0,233.0 L295.5,233.0 L304.0,237.0 L313.7,241.4 L323.0,243.5 L332.0,245.1 L340.0,247.0 L348.0,250.5 L356.5,253.3 L365.0,252.0 L374.7,249.6 L384.0,246.5 L393.0,244.1 L402.0,242.0 L411.2,240.5 L420.0,239.5 L429.5,238.7 L437.0,241.0 L444.1,244.1 L451.0,246.0 L458.7,247.8 L466.0,249.0 L473.3,249.6 L480.0,250.5 L487.9,251.4 L495.0,251.8 L502.5,251.4 L510.0,250.0 L517.1,247.8 L524.0,244.0 L531.7,240.5 L539.0,239.2 L546.3,238.7 L553.0,238.0 L560.9,234.8 L566.0,232.0 L569.0,227.0 L571.0,220.0 L574.0,214.0 L579.0,210.0 L586.0,214.0 L592.0,228.0 L600.0,240.0 L608.0,252.0 L614.0,262.0 L622.0,272.0 L640.0,285.0 L700.0,272.0 L730.0,300.0 L730.0,545.0 L25.0,545.0 L25.0,228.0Z" fill="rgb(9,9,9)"/><path d="M665.0,526.0 L670.0,513.0 L678.8,499.0 L682.0,496.2 L686.0,503.0 L689.0,515.0 L691.0,526.0Z" fill="rgb(8,8,8)"/><path d="M596.0,247.0 L602.0,250.0 L608.0,255.0 L614.0,262.0 L620.0,268.0 L625.0,272.0 L622.0,277.0 L617.0,281.0 L618.0,287.0 L613.0,288.0 L607.0,283.0 L603.0,276.0 L600.0,268.0 L597.0,260.0 L594.0,252.0Z" fill="rgb(0,0,0)"/><path d="M650.0,290.0 L660.0,286.0 L670.0,283.0 L685.0,280.0 L697.0,276.0 L702.0,284.0 L700.0,293.0 L695.0,303.0 L689.0,313.0 L684.0,322.0 L678.0,334.0 L672.0,340.0 L668.0,334.0 L670.0,324.0 L675.0,316.0 L673.0,307.0 L666.0,299.0 L657.0,295.0Z" fill="rgb(0,0,0)"/></g><g filter="url(#tgf)"><rect x="-40" y="-40" width="900" height="800" fill="#000"/><path d="M30.0,232.0 L60.0,232.0 L74.7,232.3 L84.0,231.0 L94.7,230.5 L104.0,230.0 L113.0,230.5 L124.0,232.5 L134.9,234.1 L149.5,236.0 L158.0,235.5 L167.7,236.0 L177.0,237.0 L186.0,237.8 L197.0,236.0 L206.0,236.5 L215.2,237.8 L222.0,239.5 L229.8,241.4 L237.0,242.0 L244.4,241.4 L252.0,239.5 L259.0,237.8 L268.0,235.5 L277.2,234.1 L286.0,233.0 L295.5,233.0 L304.0,237.0 L313.7,241.4 L323.0,243.5 L332.0,245.1 L340.0,247.0 L348.0,250.5 L356.5,253.3 L365.0,252.0 L374.7,249.6 L384.0,246.5 L393.0,244.1 L402.0,242.0 L411.2,240.5 L420.0,239.5 L429.5,238.7 L437.0,241.0 L444.1,244.1 L451.0,246.0 L458.7,247.8 L466.0,249.0 L473.3,249.6 L480.0,250.5 L487.9,251.4 L495.0,251.8 L502.5,251.4 L510.0,250.0 L517.1,247.8 L524.0,244.0 L531.7,240.5 L539.0,239.2 L546.3,238.7 L553.0,238.0 L560.9,234.8 L566.0,232.0 L569.0,227.0 L571.0,220.0 L574.0,214.0 L579.0,210.0 L586.0,214.0 L592.0,228.0 L600.0,240.0 L608.0,252.0 L614.0,262.0 L622.0,272.0 L640.0,285.0 L700.0,272.0 L730.0,300.0 L730.0,545.0 L25.0,545.0 L25.0,228.0Z" fill="rgb(10,10,10)"/><path d="M596.0,247.0 L602.0,250.0 L608.0,255.0 L614.0,262.0 L620.0,268.0 L625.0,272.0 L622.0,277.0 L617.0,281.0 L618.0,287.0 L613.0,288.0 L607.0,283.0 L603.0,276.0 L600.0,268.0 L597.0,260.0 L594.0,252.0Z" fill="rgb(0,0,0)"/><path d="M650.0,290.0 L660.0,286.0 L670.0,283.0 L685.0,280.0 L697.0,276.0 L702.0,284.0 L700.0,293.0 L695.0,303.0 L689.0,313.0 L684.0,322.0 L678.0,334.0 L672.0,340.0 L668.0,334.0 L670.0,324.0 L675.0,316.0 L673.0,307.0 L666.0,299.0 L657.0,295.0Z" fill="rgb(0,0,0)"/></g><g filter="url(#tgb)"><rect x="-40" y="-40" width="900" height="800" fill="#000"/><path d="M60.0,236.0 L74.7,236.3 L84.0,235.0 L94.7,234.5 L104.0,234.0 L113.0,234.5 L124.0,236.5 L134.9,238.1 L149.5,240.0 L158.0,239.5 L167.7,240.0 L177.0,241.0 L186.0,241.8 L197.0,240.0 L206.0,240.5 L215.2,241.8 L222.0,243.5 L229.8,245.4 L237.0,246.0 L244.4,245.4 L252.0,243.5 L259.0,241.8 L268.0,239.5 L277.2,238.1 L286.0,237.0 L295.5,237.0 L304.0,241.0 L313.7,245.4 L323.0,247.5 L332.0,249.1 L340.0,251.0 L348.0,254.5 L356.5,257.3 L365.0,256.0 L374.7,253.6 L384.0,250.5 L393.0,248.1 L402.0,246.0 L411.2,244.5 L420.0,243.5 L429.5,242.7 L437.0,245.0 L444.1,248.1 L451.0,250.0 L458.7,251.8 L466.0,253.0 L473.3,253.6 L480.0,254.5 L487.9,255.4 L495.0,255.8 L502.5,255.4 L510.0,254.0 L517.1,251.8 L524.0,248.0 L531.7,244.5 L539.0,243.2 L546.3,242.7 L553.0,242.0 L560.9,238.8 L560.9,274.8 L553.0,278.0 L546.3,278.7 L539.0,279.2 L531.7,280.5 L524.0,284.0 L517.1,287.8 L510.0,290.0 L502.5,291.4 L495.0,291.8 L487.9,291.4 L480.0,290.5 L473.3,289.6 L466.0,289.0 L458.7,287.8 L451.0,286.0 L444.1,284.1 L437.0,281.0 L429.5,278.7 L420.0,279.5 L411.2,280.5 L402.0,282.0 L393.0,284.1 L384.0,286.5 L374.7,289.6 L365.0,292.0 L356.5,293.3 L348.0,290.5 L340.0,287.0 L332.0,285.1 L323.0,283.5 L313.7,281.4 L304.0,277.0 L295.5,273.0 L286.0,273.0 L277.2,274.1 L268.0,275.5 L259.0,277.8 L252.0,279.5 L244.4,281.4 L237.0,282.0 L229.8,281.4 L222.0,279.5 L215.2,277.8 L206.0,276.5 L197.0,276.0 L186.0,277.8 L177.0,277.0 L167.7,276.0 L158.0,275.5 L149.5,276.0 L134.9,274.1 L124.0,272.5 L113.0,270.5 L104.0,270.0 L94.7,270.5 L84.0,271.0 L74.7,272.3 L60.0,272.0Z" fill="rgb(31,31,31)"/></g><g filter="url(#to)"><rect x="-40" y="-40" width="900" height="800" fill="#000"/><path d="M60.0,232.0 L74.7,232.3 L84.0,231.0 L94.7,230.5 L104.0,230.0 L113.0,230.5 L124.0,232.5 L134.9,234.1 L149.5,236.0 L158.0,235.5 L167.7,236.0 L177.0,237.0 L186.0,237.8 L197.0,236.0 L206.0,236.5 L215.2,237.8 L222.0,239.5 L229.8,241.4 L237.0,242.0 L244.4,241.4 L252.0,239.5 L259.0,237.8 L268.0,235.5 L277.2,234.1 L286.0,233.0 L295.5,233.0 L304.0,237.0 L313.7,241.4 L323.0,243.5 L332.0,245.1 L340.0,247.0 L348.0,250.5 L356.5,253.3 L365.0,252.0 L365.0,264.0 L356.5,265.3 L348.0,262.5 L340.0,259.0 L332.0,257.1 L323.0,255.5 L313.7,253.4 L304.0,249.0 L295.5,245.0 L286.0,245.0 L277.2,246.1 L268.0,247.5 L259.0,249.8 L252.0,251.5 L244.4,253.4 L237.0,254.0 L229.8,253.4 L222.0,251.5 L215.2,249.8 L206.0,248.5 L197.0,248.0 L186.0,249.8 L177.0,249.0 L167.7,248.0 L158.0,247.5 L149.5,248.0 L134.9,246.1 L124.0,244.5 L113.0,242.5 L104.0,242.0 L94.7,242.5 L84.0,243.0 L74.7,244.3 L60.0,244.0Z" fill="rgb(102,102,102)"/><path d="M60.0,244.0 L74.7,244.3 L84.0,243.0 L94.7,242.5 L104.0,242.0 L113.0,242.5 L124.0,244.5 L134.9,246.1 L149.5,248.0 L158.0,247.5 L167.7,248.0 L177.0,249.0 L186.0,249.8 L197.0,248.0 L206.0,248.5 L215.2,249.8 L222.0,251.5 L229.8,253.4 L237.0,254.0 L244.4,253.4 L252.0,251.5 L259.0,249.8 L268.0,247.5 L277.2,246.1 L286.0,245.0 L295.5,245.0 L304.0,249.0 L313.7,253.4 L323.0,255.5 L332.0,257.1 L340.0,259.0 L348.0,262.5 L356.5,265.3 L365.0,264.0 L365.0,278.0 L356.5,279.3 L348.0,276.5 L340.0,273.0 L332.0,271.1 L323.0,269.5 L313.7,267.4 L304.0,263.0 L295.5,259.0 L286.0,259.0 L277.2,260.1 L268.0,261.5 L259.0,263.8 L252.0,265.5 L244.4,267.4 L237.0,268.0 L229.8,267.4 L222.0,265.5 L215.2,263.8 L206.0,262.5 L197.0,262.0 L186.0,263.8 L177.0,263.0 L167.7,262.0 L158.0,261.5 L149.5,262.0 L134.9,260.1 L124.0,258.5 L113.0,256.5 L104.0,256.0 L94.7,256.5 L84.0,257.0 L74.7,258.3 L60.0,258.0Z" fill="rgb(61,61,61)"/><path d="M60.0,258.0 L74.7,258.3 L84.0,257.0 L94.7,256.5 L104.0,256.0 L113.0,256.5 L124.0,258.5 L134.9,260.1 L149.5,262.0 L158.0,261.5 L167.7,262.0 L177.0,263.0 L186.0,263.8 L197.0,262.0 L206.0,262.5 L215.2,263.8 L222.0,265.5 L229.8,267.4 L237.0,268.0 L244.4,267.4 L252.0,265.5 L259.0,263.8 L268.0,261.5 L277.2,260.1 L286.0,259.0 L295.5,259.0 L304.0,263.0 L313.7,267.4 L323.0,269.5 L332.0,271.1 L340.0,273.0 L348.0,276.5 L356.5,279.3 L365.0,278.0 L365.0,294.0 L356.5,295.3 L348.0,292.5 L340.0,289.0 L332.0,287.1 L323.0,285.5 L313.7,283.4 L304.0,279.0 L295.5,275.0 L286.0,275.0 L277.2,276.1 L268.0,277.5 L259.0,279.8 L252.0,281.5 L244.4,283.4 L237.0,284.0 L229.8,283.4 L222.0,281.5 L215.2,279.8 L206.0,278.5 L197.0,278.0 L186.0,279.8 L177.0,279.0 L167.7,278.0 L158.0,277.5 L149.5,278.0 L134.9,276.1 L124.0,274.5 L113.0,272.5 L104.0,272.0 L94.7,272.5 L84.0,273.0 L74.7,274.3 L60.0,274.0Z" fill="rgb(20,20,20)"/><path d="M374.7,249.6 L384.0,246.5 L393.0,244.1 L402.0,242.0 L411.2,240.5 L420.0,239.5 L429.5,238.7 L437.0,241.0 L444.1,244.1 L451.0,246.0 L458.7,247.8 L466.0,249.0 L473.3,249.6 L480.0,250.5 L487.9,251.4 L495.0,251.8 L502.5,251.4 L510.0,250.0 L517.1,247.8 L524.0,244.0 L531.7,240.5 L539.0,239.2 L546.3,238.7 L553.0,238.0 L560.9,234.8 L560.9,246.8 L553.0,250.0 L546.3,250.7 L539.0,251.2 L531.7,252.5 L524.0,256.0 L517.1,259.8 L510.0,262.0 L502.5,263.4 L495.0,263.8 L487.9,263.4 L480.0,262.5 L473.3,261.6 L466.0,261.0 L458.7,259.8 L451.0,258.0 L444.1,256.1 L437.0,253.0 L429.5,250.7 L420.0,251.5 L411.2,252.5 L402.0,254.0 L393.0,256.1 L384.0,258.5 L374.7,261.6Z" fill="rgb(102,102,102)"/><path d="M374.7,261.6 L384.0,258.5 L393.0,256.1 L402.0,254.0 L411.2,252.5 L420.0,251.5 L429.5,250.7 L437.0,253.0 L444.1,256.1 L451.0,258.0 L458.7,259.8 L466.0,261.0 L473.3,261.6 L480.0,262.5 L487.9,263.4 L495.0,263.8 L502.5,263.4 L510.0,262.0 L517.1,259.8 L524.0,256.0 L531.7,252.5 L539.0,251.2 L546.3,250.7 L553.0,250.0 L560.9,246.8 L560.9,262.8 L553.0,266.0 L546.3,266.7 L539.0,267.2 L531.7,268.5 L524.0,272.0 L517.1,275.8 L510.0,278.0 L502.5,279.4 L495.0,279.8 L487.9,279.4 L480.0,278.5 L473.3,277.6 L466.0,277.0 L458.7,275.8 L451.0,274.0 L444.1,272.1 L437.0,269.0 L429.5,266.7 L420.0,267.5 L411.2,268.5 L402.0,270.0 L393.0,272.1 L384.0,274.5 L374.7,277.6Z" fill="rgb(76,76,76)"/><path d="M374.7,277.6 L384.0,274.5 L393.0,272.1 L402.0,270.0 L411.2,268.5 L420.0,267.5 L429.5,266.7 L437.0,269.0 L444.1,272.1 L451.0,274.0 L458.7,275.8 L466.0,277.0 L473.3,277.6 L480.0,278.5 L487.9,279.4 L495.0,279.8 L502.5,279.4 L510.0,278.0 L517.1,275.8 L524.0,272.0 L531.7,268.5 L539.0,267.2 L546.3,266.7 L553.0,266.0 L560.9,262.8 L560.9,278.8 L553.0,282.0 L546.3,282.7 L539.0,283.2 L531.7,284.5 L524.0,288.0 L517.1,291.8 L510.0,294.0 L502.5,295.4 L495.0,295.8 L487.9,295.4 L480.0,294.5 L473.3,293.6 L466.0,293.0 L458.7,291.8 L451.0,290.0 L444.1,288.1 L437.0,285.0 L429.5,282.7 L420.0,283.5 L411.2,284.5 L402.0,286.0 L393.0,288.1 L384.0,290.5 L374.7,293.6Z" fill="rgb(36,36,36)"/><path d="M437.0,285.0 L444.1,288.1 L451.0,290.0 L458.7,291.8 L466.0,293.0 L473.3,293.6 L480.0,294.5 L487.9,295.4 L495.0,295.8 L502.5,295.4 L510.0,294.0 L517.1,291.8 L524.0,288.0 L531.7,284.5 L531.7,298.5 L524.0,302.0 L517.1,305.8 L510.0,308.0 L502.5,309.4 L495.0,309.8 L487.9,309.4 L480.0,308.5 L473.3,307.6 L466.0,307.0 L458.7,305.8 L451.0,304.0 L444.1,302.1 L437.0,299.0Z" fill="rgb(20,20,20)"/><path d="M122.0,126.0 L130.0,118.0 L140.0,112.0 L148.0,107.0 L157.0,104.0 L165.0,98.0 L172.0,91.0 L178.0,86.0 L186.0,79.0 L196.0,72.0 L205.5,68.0 L215.0,67.0 L225.0,64.7 L232.0,64.0 L244.6,67.0 L254.3,63.4 L266.5,60.0 L273.8,58.0 L279.0,64.7 L288.4,68.3 L295.7,69.5 L303.0,70.7 L310.3,72.0 L317.6,72.0 L322.5,76.8 L327.3,81.7 L333.0,85.0 L336.0,80.0 L332.0,70.0 L330.0,55.0 L330.0,36.0 L170.0,36.0 L160.0,60.0 L140.0,78.0 L125.0,100.0 L115.0,122.0Z" fill="rgb(51,51,51)"/><path d="M120.0,128.0 L128.0,118.0 L138.0,110.0 L150.0,104.0 L160.0,96.0 L168.0,84.0 L172.0,70.0 L172.0,58.0 L165.0,66.0 L155.0,74.0 L142.0,81.0 L137.0,90.0 L135.0,100.0 L130.0,112.0Z" fill="rgb(89,89,89)"/><path d="M545.0,236.0 L560.0,232.0 L572.0,226.0 L580.0,232.0 L590.0,245.0 L596.0,262.0 L588.0,280.0 L570.0,290.0 L552.0,292.0 L542.0,270.0Z" fill="rgb(41,41,41)"/><path d="M546.0,348.0 L572.0,348.0 L598.0,354.0 L606.0,372.0 L604.0,396.0 L588.0,404.0 L572.0,398.0 L560.0,388.0 L552.0,372.0Z" fill="rgb(41,41,41)"/><path d="M560.0,292.0 L585.0,290.0 L600.0,300.0 L606.0,322.0 L600.0,345.0 L580.0,346.0 L566.0,332.0 L558.0,310.0Z" fill="rgb(43,43,43)"/><path d="M618.0,298.0 L632.0,296.0 L646.0,302.0 L660.0,316.0 L666.0,334.0 L658.0,352.0 L640.0,362.0 L620.0,358.0 L606.0,350.0 L610.0,330.0 L620.0,314.0Z" fill="rgb(97,97,97)"/><path d="M612.0,352.0 L640.0,346.0 L666.0,338.0 L656.0,362.0 L640.0,372.0 L620.0,383.0 L606.0,380.0Z" fill="rgb(82,82,82)"/><path d="M636.0,290.0 L648.0,288.0 L662.0,294.0 L672.0,304.0 L676.0,316.0 L668.0,322.0 L655.0,316.0 L644.0,306.0 L636.0,298.0Z" fill="rgb(76,76,76)"/><path d="M604.0,340.0 L616.0,331.0 L630.0,326.0 L640.0,331.0 L636.0,344.0 L624.0,350.0 L610.0,353.0Z" fill="rgb(76,76,76)"/><path d="M589.0,72.0 L594.0,68.7 L602.6,66.0 L611.0,65.0 L619.6,66.0 L628.0,71.0 L636.7,78.0 L645.2,85.0 L652.0,90.0 L658.8,95.0 L665.6,100.0 L667.0,104.5 L660.5,102.8 L650.3,97.7 L640.0,91.0 L631.6,84.0 L621.0,77.3 L611.0,75.6 L599.0,79.0 L589.0,87.5 L585.0,80.0Z" fill="rgb(76,76,76)"/><path d="M606.0,64.5 L621.0,64.5 L622.0,70.5 L607.0,71.0Z" fill="rgb(102,102,102)"/><path d="M543.0,99.0 L546.0,92.0 L549.0,85.0 L552.0,78.0 L555.0,71.0 L559.0,64.0 L568.0,64.0 L566.0,72.0 L562.0,80.0 L558.0,88.0 L556.0,96.0 L552.0,104.0 L547.0,104.0Z" fill="rgb(76,76,76)"/><path d="M640.0,123.0 L650.0,122.0 L662.0,126.0 L668.0,133.0 L664.0,139.0 L655.0,138.0 L646.0,133.0Z" fill="rgb(102,102,102)"/><path d="M609.0,125.0 L616.0,123.5 L624.0,129.0 L631.0,136.0 L638.0,145.0 L633.0,149.0 L624.0,141.0 L615.0,133.0Z" fill="rgb(76,76,76)"/><path d="M582.0,166.0 L588.0,176.0 L594.0,190.0 L602.0,202.0 L611.0,216.0 L619.0,228.0 L624.0,242.0 L627.0,256.0 L628.0,266.0 L636.0,265.0 L648.0,261.0 L658.0,256.0 L652.0,246.0 L642.0,238.0 L633.0,228.0 L624.0,215.0 L614.0,198.0 L606.0,186.0 L598.0,173.0 L590.0,163.0Z" fill="rgb(26,26,26)"/><path d="M596.0,247.0 L602.0,250.0 L608.0,255.0 L614.0,262.0 L620.0,268.0 L625.0,272.0 L622.0,277.0 L617.0,281.0 L618.0,287.0 L613.0,288.0 L607.0,283.0 L603.0,276.0 L600.0,268.0 L597.0,260.0 L594.0,252.0Z" fill="rgb(0,0,0)"/><path d="M650.0,290.0 L660.0,286.0 L670.0,283.0 L685.0,280.0 L697.0,276.0 L702.0,284.0 L700.0,293.0 L695.0,303.0 L689.0,313.0 L684.0,322.0 L678.0,334.0 L672.0,340.0 L668.0,334.0 L670.0,324.0 L675.0,316.0 L673.0,307.0 L666.0,299.0 L657.0,295.0Z" fill="rgb(0,0,0)"/></g><g filter="url(#tr)"><rect x="-40" y="-40" width="900" height="800" fill="#000"/><path d="M60.0,232.0 L74.7,232.3 L84.0,231.0 L94.7,230.5 L104.0,230.0 L113.0,230.5 L124.0,232.5 L134.9,234.1 L149.5,236.0 L158.0,235.5 L167.7,236.0 L177.0,237.0 L186.0,237.8 L197.0,236.0 L206.0,236.5 L215.2,237.8 L222.0,239.5 L229.8,241.4 L237.0,242.0 L244.4,241.4 L252.0,239.5 L259.0,237.8 L268.0,235.5 L277.2,234.1 L286.0,233.0 L295.5,233.0 L304.0,237.0 L313.7,241.4 L323.0,243.5 L332.0,245.1 L340.0,247.0 L348.0,250.5 L356.5,253.3 L365.0,252.0 L365.0,264.0 L356.5,265.3 L348.0,262.5 L340.0,259.0 L332.0,257.1 L323.0,255.5 L313.7,253.4 L304.0,249.0 L295.5,245.0 L286.0,245.0 L277.2,246.1 L268.0,247.5 L259.0,249.8 L252.0,251.5 L244.4,253.4 L237.0,254.0 L229.8,253.4 L222.0,251.5 L215.2,249.8 L206.0,248.5 L197.0,248.0 L186.0,249.8 L177.0,249.0 L167.7,248.0 L158.0,247.5 L149.5,248.0 L134.9,246.1 L124.0,244.5 L113.0,242.5 L104.0,242.0 L94.7,242.5 L84.0,243.0 L74.7,244.3 L60.0,244.0Z" fill="rgb(128,128,128)"/><path d="M60.0,244.0 L74.7,244.3 L84.0,243.0 L94.7,242.5 L104.0,242.0 L113.0,242.5 L124.0,244.5 L134.9,246.1 L149.5,248.0 L158.0,247.5 L167.7,248.0 L177.0,249.0 L186.0,249.8 L197.0,248.0 L206.0,248.5 L215.2,249.8 L222.0,251.5 L229.8,253.4 L237.0,254.0 L244.4,253.4 L252.0,251.5 L259.0,249.8 L268.0,247.5 L277.2,246.1 L286.0,245.0 L295.5,245.0 L304.0,249.0 L313.7,253.4 L323.0,255.5 L332.0,257.1 L340.0,259.0 L348.0,262.5 L356.5,265.3 L365.0,264.0 L365.0,278.0 L356.5,279.3 L348.0,276.5 L340.0,273.0 L332.0,271.1 L323.0,269.5 L313.7,267.4 L304.0,263.0 L295.5,259.0 L286.0,259.0 L277.2,260.1 L268.0,261.5 L259.0,263.8 L252.0,265.5 L244.4,267.4 L237.0,268.0 L229.8,267.4 L222.0,265.5 L215.2,263.8 L206.0,262.5 L197.0,262.0 L186.0,263.8 L177.0,263.0 L167.7,262.0 L158.0,261.5 L149.5,262.0 L134.9,260.1 L124.0,258.5 L113.0,256.5 L104.0,256.0 L94.7,256.5 L84.0,257.0 L74.7,258.3 L60.0,258.0Z" fill="rgb(56,56,56)"/><path d="M60.0,258.0 L74.7,258.3 L84.0,257.0 L94.7,256.5 L104.0,256.0 L113.0,256.5 L124.0,258.5 L134.9,260.1 L149.5,262.0 L158.0,261.5 L167.7,262.0 L177.0,263.0 L186.0,263.8 L197.0,262.0 L206.0,262.5 L215.2,263.8 L222.0,265.5 L229.8,267.4 L237.0,268.0 L244.4,267.4 L252.0,265.5 L259.0,263.8 L268.0,261.5 L277.2,260.1 L286.0,259.0 L295.5,259.0 L304.0,263.0 L313.7,267.4 L323.0,269.5 L332.0,271.1 L340.0,273.0 L348.0,276.5 L356.5,279.3 L365.0,278.0 L365.0,294.0 L356.5,295.3 L348.0,292.5 L340.0,289.0 L332.0,287.1 L323.0,285.5 L313.7,283.4 L304.0,279.0 L295.5,275.0 L286.0,275.0 L277.2,276.1 L268.0,277.5 L259.0,279.8 L252.0,281.5 L244.4,283.4 L237.0,284.0 L229.8,283.4 L222.0,281.5 L215.2,279.8 L206.0,278.5 L197.0,278.0 L186.0,279.8 L177.0,279.0 L167.7,278.0 L158.0,277.5 L149.5,278.0 L134.9,276.1 L124.0,274.5 L113.0,272.5 L104.0,272.0 L94.7,272.5 L84.0,273.0 L74.7,274.3 L60.0,274.0Z" fill="rgb(13,13,13)"/><path d="M374.7,249.6 L384.0,246.5 L393.0,244.1 L402.0,242.0 L411.2,240.5 L420.0,239.5 L429.5,238.7 L437.0,241.0 L444.1,244.1 L451.0,246.0 L458.7,247.8 L466.0,249.0 L473.3,249.6 L480.0,250.5 L487.9,251.4 L495.0,251.8 L502.5,251.4 L510.0,250.0 L517.1,247.8 L524.0,244.0 L531.7,240.5 L539.0,239.2 L546.3,238.7 L553.0,238.0 L560.9,234.8 L560.9,246.8 L553.0,250.0 L546.3,250.7 L539.0,251.2 L531.7,252.5 L524.0,256.0 L517.1,259.8 L510.0,262.0 L502.5,263.4 L495.0,263.8 L487.9,263.4 L480.0,262.5 L473.3,261.6 L466.0,261.0 L458.7,259.8 L451.0,258.0 L444.1,256.1 L437.0,253.0 L429.5,250.7 L420.0,251.5 L411.2,252.5 L402.0,254.0 L393.0,256.1 L384.0,258.5 L374.7,261.6Z" fill="rgb(140,140,140)"/><path d="M374.7,261.6 L384.0,258.5 L393.0,256.1 L402.0,254.0 L411.2,252.5 L420.0,251.5 L429.5,250.7 L437.0,253.0 L444.1,256.1 L451.0,258.0 L458.7,259.8 L466.0,261.0 L473.3,261.6 L480.0,262.5 L487.9,263.4 L495.0,263.8 L502.5,263.4 L510.0,262.0 L517.1,259.8 L524.0,256.0 L531.7,252.5 L539.0,251.2 L546.3,250.7 L553.0,250.0 L560.9,246.8 L560.9,262.8 L553.0,266.0 L546.3,266.7 L539.0,267.2 L531.7,268.5 L524.0,272.0 L517.1,275.8 L510.0,278.0 L502.5,279.4 L495.0,279.8 L487.9,279.4 L480.0,278.5 L473.3,277.6 L466.0,277.0 L458.7,275.8 L451.0,274.0 L444.1,272.1 L437.0,269.0 L429.5,266.7 L420.0,267.5 L411.2,268.5 L402.0,270.0 L393.0,272.1 L384.0,274.5 L374.7,277.6Z" fill="rgb(102,102,102)"/><path d="M374.7,277.6 L384.0,274.5 L393.0,272.1 L402.0,270.0 L411.2,268.5 L420.0,267.5 L429.5,266.7 L437.0,269.0 L444.1,272.1 L451.0,274.0 L458.7,275.8 L466.0,277.0 L473.3,277.6 L480.0,278.5 L487.9,279.4 L495.0,279.8 L502.5,279.4 L510.0,278.0 L517.1,275.8 L524.0,272.0 L531.7,268.5 L539.0,267.2 L546.3,266.7 L553.0,266.0 L560.9,262.8 L560.9,278.8 L553.0,282.0 L546.3,282.7 L539.0,283.2 L531.7,284.5 L524.0,288.0 L517.1,291.8 L510.0,294.0 L502.5,295.4 L495.0,295.8 L487.9,295.4 L480.0,294.5 L473.3,293.6 L466.0,293.0 L458.7,291.8 L451.0,290.0 L444.1,288.1 L437.0,285.0 L429.5,282.7 L420.0,283.5 L411.2,284.5 L402.0,286.0 L393.0,288.1 L384.0,290.5 L374.7,293.6Z" fill="rgb(38,38,38)"/><path d="M437.0,285.0 L444.1,288.1 L451.0,290.0 L458.7,291.8 L466.0,293.0 L473.3,293.6 L480.0,294.5 L487.9,295.4 L495.0,295.8 L502.5,295.4 L510.0,294.0 L517.1,291.8 L524.0,288.0 L531.7,284.5 L531.7,298.5 L524.0,302.0 L517.1,305.8 L510.0,308.0 L502.5,309.4 L495.0,309.8 L487.9,309.4 L480.0,308.5 L473.3,307.6 L466.0,307.0 L458.7,305.8 L451.0,304.0 L444.1,302.1 L437.0,299.0Z" fill="rgb(15,15,15)"/><path d="M122.0,126.0 L130.0,118.0 L140.0,112.0 L148.0,107.0 L157.0,104.0 L165.0,98.0 L172.0,91.0 L178.0,86.0 L186.0,79.0 L196.0,72.0 L205.5,68.0 L215.0,67.0 L225.0,64.7 L232.0,64.0 L244.6,67.0 L254.3,63.4 L266.5,60.0 L273.8,58.0 L279.0,64.7 L288.4,68.3 L295.7,69.5 L303.0,70.7 L310.3,72.0 L317.6,72.0 L322.5,76.8 L327.3,81.7 L333.0,85.0 L336.0,80.0 L332.0,70.0 L330.0,55.0 L330.0,36.0 L170.0,36.0 L160.0,60.0 L140.0,78.0 L125.0,100.0 L115.0,122.0Z" fill="rgb(31,31,31)"/><path d="M120.0,128.0 L128.0,118.0 L138.0,110.0 L150.0,104.0 L160.0,96.0 L168.0,84.0 L172.0,70.0 L172.0,58.0 L165.0,66.0 L155.0,74.0 L142.0,81.0 L137.0,90.0 L135.0,100.0 L130.0,112.0Z" fill="rgb(140,140,140)"/><path d="M545.0,236.0 L560.0,232.0 L572.0,226.0 L580.0,232.0 L590.0,245.0 L596.0,262.0 L588.0,280.0 L570.0,290.0 L552.0,292.0 L542.0,270.0Z" fill="rgb(20,20,20)"/><path d="M546.0,348.0 L572.0,348.0 L598.0,354.0 L606.0,372.0 L604.0,396.0 L588.0,404.0 L572.0,398.0 L560.0,388.0 L552.0,372.0Z" fill="rgb(26,26,26)"/><path d="M560.0,292.0 L585.0,290.0 L600.0,300.0 L606.0,322.0 L600.0,345.0 L580.0,346.0 L566.0,332.0 L558.0,310.0Z" fill="rgb(31,31,31)"/><path d="M618.0,298.0 L632.0,296.0 L646.0,302.0 L660.0,316.0 L666.0,334.0 L658.0,352.0 L640.0,362.0 L620.0,358.0 L606.0,350.0 L610.0,330.0 L620.0,314.0Z" fill="rgb(51,51,51)"/><path d="M612.0,352.0 L640.0,346.0 L666.0,338.0 L656.0,362.0 L640.0,372.0 L620.0,383.0 L606.0,380.0Z" fill="rgb(38,38,38)"/><path d="M636.0,290.0 L648.0,288.0 L662.0,294.0 L672.0,304.0 L676.0,316.0 L668.0,322.0 L655.0,316.0 L644.0,306.0 L636.0,298.0Z" fill="rgb(128,128,128)"/><path d="M604.0,340.0 L616.0,331.0 L630.0,326.0 L640.0,331.0 L636.0,344.0 L624.0,350.0 L610.0,353.0Z" fill="rgb(128,128,128)"/><path d="M589.0,72.0 L594.0,68.7 L602.6,66.0 L611.0,65.0 L619.6,66.0 L628.0,71.0 L636.7,78.0 L645.2,85.0 L652.0,90.0 L658.8,95.0 L665.6,100.0 L667.0,104.5 L660.5,102.8 L650.3,97.7 L640.0,91.0 L631.6,84.0 L621.0,77.3 L611.0,75.6 L599.0,79.0 L589.0,87.5 L585.0,80.0Z" fill="rgb(46,46,46)"/><path d="M606.0,64.5 L621.0,64.5 L622.0,70.5 L607.0,71.0Z" fill="rgb(128,128,128)"/><path d="M640.0,123.0 L650.0,122.0 L662.0,126.0 L668.0,133.0 L664.0,139.0 L655.0,138.0 L646.0,133.0Z" fill="rgb(102,102,102)"/><path d="M609.0,125.0 L616.0,123.5 L624.0,129.0 L631.0,136.0 L638.0,145.0 L633.0,149.0 L624.0,141.0 L615.0,133.0Z" fill="rgb(51,51,51)"/><path d="M640.0,137.0 L648.0,136.0 L656.0,142.0 L655.0,149.0 L646.0,148.0Z" fill="rgb(76,76,76)"/><path d="M543.0,99.0 L546.0,92.0 L549.0,85.0 L552.0,78.0 L555.0,71.0 L559.0,64.0 L568.0,64.0 L566.0,72.0 L562.0,80.0 L558.0,88.0 L556.0,96.0 L552.0,104.0 L547.0,104.0Z" fill="rgb(38,38,38)"/><path d="M596.0,247.0 L602.0,250.0 L608.0,255.0 L614.0,262.0 L620.0,268.0 L625.0,272.0 L622.0,277.0 L617.0,281.0 L618.0,287.0 L613.0,288.0 L607.0,283.0 L603.0,276.0 L600.0,268.0 L597.0,260.0 L594.0,252.0Z" fill="rgb(0,0,0)"/><path d="M650.0,290.0 L660.0,286.0 L670.0,283.0 L685.0,280.0 L697.0,276.0 L702.0,284.0 L700.0,293.0 L695.0,303.0 L689.0,313.0 L684.0,322.0 L678.0,334.0 L672.0,340.0 L668.0,334.0 L670.0,324.0 L675.0,316.0 L673.0,307.0 L666.0,299.0 L657.0,295.0Z" fill="rgb(0,0,0)"/></g><g filter="url(#tm)"><rect x="-40" y="-40" width="900" height="800" fill="#000"/><path d="M60.0,230.0 L74.7,230.3 L84.0,229.0 L94.7,228.5 L104.0,228.0 L113.0,228.5 L124.0,230.5 L134.9,232.1 L149.5,234.0 L158.0,233.5 L167.7,234.0 L177.0,235.0 L186.0,235.8 L197.0,234.0 L206.0,234.5 L215.2,235.8 L222.0,237.5 L229.8,239.4 L237.0,240.0 L244.4,239.4 L252.0,237.5 L259.0,235.8 L268.0,233.5 L277.2,232.1 L286.0,231.0 L295.5,231.0 L304.0,235.0 L313.7,239.4 L323.0,241.5 L332.0,243.1 L340.0,245.0 L348.0,248.5 L356.5,251.3 L365.0,250.0 L365.0,262.0 L356.5,263.3 L348.0,260.5 L340.0,257.0 L332.0,255.1 L323.0,253.5 L313.7,251.4 L304.0,247.0 L295.5,243.0 L286.0,243.0 L277.2,244.1 L268.0,245.5 L259.0,247.8 L252.0,249.5 L244.4,251.4 L237.0,252.0 L229.8,251.4 L222.0,249.5 L215.2,247.8 L206.0,246.5 L197.0,246.0 L186.0,247.8 L177.0,247.0 L167.7,246.0 L158.0,245.5 L149.5,246.0 L134.9,244.1 L124.0,242.5 L113.0,240.5 L104.0,240.0 L94.7,240.5 L84.0,241.0 L74.7,242.3 L60.0,242.0Z" fill="rgb(26,26,26)"/><path d="M374.7,247.6 L384.0,244.5 L393.0,242.1 L402.0,240.0 L411.2,238.5 L420.0,237.5 L429.5,236.7 L437.0,239.0 L444.1,242.1 L451.0,244.0 L458.7,245.8 L466.0,247.0 L473.3,247.6 L480.0,248.5 L487.9,249.4 L495.0,249.8 L502.5,249.4 L510.0,248.0 L517.1,245.8 L524.0,242.0 L531.7,238.5 L539.0,237.2 L546.3,236.7 L553.0,236.0 L560.9,232.8 L566.0,230.0 L566.0,244.0 L560.9,246.8 L553.0,250.0 L546.3,250.7 L539.0,251.2 L531.7,252.5 L524.0,256.0 L517.1,259.8 L510.0,262.0 L502.5,263.4 L495.0,263.8 L487.9,263.4 L480.0,262.5 L473.3,261.6 L466.0,261.0 L458.7,259.8 L451.0,258.0 L444.1,256.1 L437.0,253.0 L429.5,250.7 L420.0,251.5 L411.2,252.5 L402.0,254.0 L393.0,256.1 L384.0,258.5 L374.7,261.6Z" fill="rgb(56,56,56)"/><path d="M384.0,243.5 L393.0,241.1 L402.0,239.0 L411.2,237.5 L420.0,236.5 L429.5,235.7 L437.0,238.0 L444.1,241.1 L451.0,243.0 L451.0,262.0 L444.1,260.1 L437.0,257.0 L429.5,254.7 L420.0,255.5 L411.2,256.5 L402.0,258.0 L393.0,260.1 L384.0,262.5Z" fill="rgb(140,140,140)"/><path d="M495.0,248.8 L502.5,248.4 L510.0,247.0 L517.1,244.8 L524.0,241.0 L531.7,237.5 L539.0,236.2 L539.0,253.2 L531.7,254.5 L524.0,258.0 L517.1,261.8 L510.0,264.0 L502.5,265.4 L495.0,265.8Z" fill="rgb(115,115,115)"/><path d="M120.0,128.0 L128.0,118.0 L138.0,110.0 L150.0,104.0 L160.0,96.0 L168.0,84.0 L172.0,70.0 L172.0,58.0 L165.0,66.0 L155.0,74.0 L142.0,81.0 L137.0,90.0 L135.0,100.0 L130.0,112.0Z" fill="rgb(107,107,107)"/><path d="M636.0,290.0 L648.0,288.0 L662.0,294.0 L672.0,304.0 L676.0,316.0 L668.0,322.0 L655.0,316.0 L644.0,306.0 L636.0,298.0Z" fill="rgb(76,76,76)"/><path d="M604.0,340.0 L616.0,331.0 L630.0,326.0 L640.0,331.0 L636.0,344.0 L624.0,350.0 L610.0,353.0Z" fill="rgb(64,64,64)"/></g><g filter="url(#tp)"><rect x="-40" y="-40" width="900" height="800" fill="#000"/><path d="M393.0,241.1 L402.0,239.0 L411.2,237.5 L420.0,236.5 L429.5,235.7 L437.0,238.0 L444.1,241.1 L444.1,254.1 L437.0,251.0 L429.5,248.7 L420.0,249.5 L411.2,250.5 L402.0,252.0 L393.0,254.1Z" fill="rgb(56,56,56)"/><path d="M510.0,247.0 L517.1,244.8 L524.0,241.0 L531.7,237.5 L539.0,236.2 L539.0,247.2 L531.7,248.5 L524.0,252.0 L517.1,255.8 L510.0,258.0Z" fill="rgb(31,31,31)"/><path d="M120.0,128.0 L128.0,118.0 L138.0,110.0 L150.0,104.0 L160.0,96.0 L168.0,84.0 L172.0,70.0 L172.0,58.0 L165.0,66.0 L155.0,74.0 L142.0,81.0 L137.0,90.0 L135.0,100.0 L130.0,112.0Z" fill="rgb(15,15,15)"/><path d="M636.0,290.0 L648.0,288.0 L662.0,294.0 L672.0,304.0 L676.0,316.0 L668.0,322.0 L655.0,316.0 L644.0,306.0 L636.0,298.0Z" fill="rgb(15,15,15)"/></g></g></g><path d="M526.0,389.0 L531.0,388.0 L536.0,388.5 L539.5,390.5 L540.0,394.0 L538.5,397.5 L533.0,398.5 L530.5,400.5 L531.0,404.0 L528.0,407.5 L524.0,407.0 L522.0,402.5 L523.0,398.0 L524.0,393.0Z" fill="#fff" filter="url(#lk)"/><path d="M498.0,424.0 L499.3,430.0 L500.8,440.0 L503.5,447.0 L506.8,454.0 L509.0,459.0 L511.2,463.5" fill="none" stroke="#fff" stroke-width="2" stroke-linecap="round"/><path d="M543.2,477.0 L544.3,483.0 L546.5,490.0 L546.5,497.0 L545.6,503.0 L546.5,509.0 L547.2,514.0 L548.5,519.0" fill="none" stroke="#fff" stroke-width="2" stroke-linecap="round"/><path d="M207.9,63.0 L209.0,68.0 L210.3,74.4 L213.0,80.0 L215.2,84.1 L215.2,89.0 L211.0,90.5 L207.9,91.4 L200.6,93.9 L193.3,95.1 L190.9,98.7 L186.0,103.6 L178.7,106.0 L169.0,108.5 L161.6,112.1 L154.4,114.5 L147.1,118.2 L145.8,123.0 L145.8,130.6M104.5,130.8 L145.8,130.8M145.8,130.8 L145.8,146.3 L115.2,146.3 L114.6,158.0 L114.2,169.3 L108.1,170.1 L105.7,175.0 L105.7,189.5 L69.2,189.5M145.8,134.9 L181.3,155.0M181.3,155.0 L165.5,155.0 L168.0,175.0 L171.4,200.6 L173.5,218.0 L175.0,232.2 L175.0,242.8 L157.3,243.2 L133.0,243.2 L125.2,243.6M125.2,243.6 L120.8,244.5 L111.1,243.2 L103.8,239.6 L96.5,236.0 L86.8,233.5 L80.0,234.0 L75.5,234.8M181.3,155.0 L230.0,187.2 L238.0,193.0 L244.6,199.3 L254.3,203.0 L256.8,210.3M256.8,210.3 L268.0,208.5 L281.1,206.6 L288.0,200.0 L295.7,193.3 L315.0,181.0 L335.8,168.9M303.0,42.8 L303.0,47.6 L301.5,56.0 L300.6,64.7 L295.7,74.4 L299.0,79.0 L303.0,84.1 L306.5,89.0 L310.3,93.9 L312.5,100.0 L314.0,106.0 L315.5,112.0 L316.4,118.2 L317.2,126.0 L317.6,132.8 L315.2,142.2 L316.5,149.0 L318.8,154.3 L322.0,157.5 L327.3,160.4 L331.0,164.0 L335.8,168.9M334.6,81.2 L333.5,84.0 L332.2,86.6 L327.0,90.0 L322.5,93.9 L320.5,98.0 L320.0,101.2 L317.0,104.5 L314.0,107.2M335.8,168.9 L346.0,172.5 L356.5,176.2 L365.0,174.0M365.0,174.0 L374.8,170.1 L402.0,183.5 L430.0,196.9 L448.0,206.6M365.0,174.0 L367.5,182.0 L369.9,190.8 L373.6,199.3 L372.5,215.0 L369.9,229.8 L364.0,237.0 L359.0,244.4 L355.0,249.5 L351.2,253.9M457.3,92.8 L457.3,183.5 L457.3,197.6 L448.0,206.6M457.3,183.5 L534.4,184.2 L537.5,184.7 L541.7,182.3 L545.0,180.5 L549.0,178.7 L552.0,176.0 L555.8,173.0M448.0,206.6 L448.0,222.0 L448.0,239.5 L441.0,245.0 L434.6,250.0 L431.0,256.0 L429.7,262.2 L432.0,268.0 L434.6,274.3 L437.0,279.0 L439.5,284.0M256.8,210.3 L265.3,209.1 L265.3,220.0 L265.3,232.2 L261.6,241.9 L255.0,245.0 L248.0,246.5 L240.0,247.5 L230.3,248.1M230.3,248.1 L218.2,249.3 L206.0,254.2 L196.3,261.5 L186.5,266.4 L179.2,273.7 L176.8,281.0 L176.8,285.8 L169.5,288.3 L162.2,289.5 L152.5,290.7M230.3,248.1 L235.2,256.6 L242.5,266.4 L249.8,271.2 L257.1,273.7M125.2,243.6 L120.8,247.0 L116.0,251.8 L114.7,261.5 L116.0,268.8 L120.8,273.7 L125.7,276.1 L133.0,273.7 L142.7,271.2 L145.2,276.1 L147.6,285.8 L152.5,290.7M116.0,268.8 L108.7,270.0 L103.8,270.0 L84.3,270.0 L71.0,270.5M84.3,270.0 L88.5,275.0 L86.0,281.0 L83.8,286.5M73.5,261.0 L84.0,261.2 L92.0,260.5 L98.8,261.9 L98.5,263.8 L92.0,264.2 L84.0,264.4 L73.5,264.4M103.3,308.4 L104.0,302.0 L108.1,296.2 L113.0,294.2 L117.9,293.8 L121.5,294.6 L125.2,296.2 L126.4,302.0 L127.6,308.4 L124.0,313.5 L120.3,319.3M127.6,308.4 L130.0,308.4 L133.5,308.8 L137.3,309.6 L139.8,316.9 L144.6,315.7 L148.3,318.1M152.5,290.7 L150.0,298.0 L152.5,307.7 L150.3,312.5 L148.3,318.1M148.3,318.1 L149.5,325.4 L152.0,329.0 L154.4,332.7 L155.6,339.0 L156.8,345.8M176.8,285.8 L182.0,290.0 L186.5,294.3 L192.0,297.0 L198.7,297.5 L200.6,292.0 L200.6,286.5M200.6,286.5 L199.4,300.0 L199.4,310.0 L199.4,318.1 L200.6,330.0 L202.0,336.0 L203.0,340.6M200.6,286.5 L210.0,285.7 L218.0,285.2 L225.5,284.6 L227.3,286.5M227.3,286.5 L229.2,293.0 L229.8,300.0 L229.8,310.8 L231.5,318.0 L233.0,326.0 L234.2,333.0M227.3,286.5 L232.0,283.5 L239.7,279.2 L244.0,276.0 L249.5,274.3 L256.8,274.3M239.7,279.2 L236.5,283.0 L234.9,286.5 L236.8,295.0 L239.7,303.5 L240.2,315.0 L241.0,328.0M261.6,259.7 L259.0,267.0 L256.8,274.3 L258.5,281.0 L260.4,288.9 L257.0,294.0 L254.3,298.7 L253.0,306.0 L251.9,313.3 L251.9,327.4M261.6,259.7 L270.0,261.0 L278.7,262.2 L286.0,265.0 L293.3,267.0 L302.0,264.5 L310.3,262.2 L318.0,262.5 L327.3,262.2 L336.0,261.0 L341.0,263.5 L344.4,262.0 L349.0,259.7 L351.2,253.9M351.2,253.9 L352.0,259.0 L354.8,264.0 L357.7,267.7 L360.5,271.5 L361.4,275.0 L361.4,279.4 L355.5,282.3 L351.9,286.7 L351.2,290.0 L349.2,298.7 L345.5,303.5 L341.9,308.4 L338.2,314.5 L334.6,320.6 L331.0,322.0 L327.3,323.0 L321.0,325.5 L315.2,327.9 L311.5,331.5 L307.9,335.2 L306.6,339.0 L305.4,342.5M357.7,267.7 L361.4,267.7 L364.3,270.7 L366.5,276.5 L365.8,283.8 L366.5,290.0 L368.7,295.0 L367.5,299.0 L366.3,303.5 L368.0,309.0 L369.9,314.5M369.9,314.5 L377.8,314.0 L385.7,313.3 L393.0,309.0 L400.3,304.7 L407.6,301.7 L415.0,298.7 L422.5,294.0 L430.0,289.0 L435.0,286.5 L439.5,284.0M369.9,314.5 L366.8,318.8 L363.8,323.0 L362.6,328.0 L361.4,332.7 L363.8,340.0 L366.3,347.3 L370.0,352.0 L373.6,357.0 L374.8,360.7 L376.0,364.4M314.0,365.0 L323.0,365.3 L332.2,365.6 L339.5,366.2 L346.8,366.8 L356.0,366.4 L366.0,365.4 L376.0,364.4M313.5,374.5 L323.0,374.5 L323.5,365.5M376.0,364.4 L377.2,359.5 L378.4,354.6 L388.0,354.0 L397.9,353.4M397.9,353.4 L397.5,360.0 L395.5,365.0 L393.0,370.0 L390.6,379.7 L388.1,384.6 L385.7,389.5 L382.0,394.3 L378.4,399.2 L377.2,404.0 L376.0,408.9 L374.8,415.0 L373.6,421.1 L370.0,424.7 L366.3,428.4 L361.4,429.6 L356.5,430.8 L350.5,430.8 L344.4,430.8 L341.9,433.2 L339.5,435.7M346.8,366.8 L356.5,370.0 L358.5,380.0 L361.4,389.5 L360.2,397.0 L359.0,404.0 L354.0,409.0 L349.0,407.5 L344.4,406.5 L340.5,412.5 L337.0,418.7 L333.4,420.0 L329.8,421.1M339.5,441.8 L350.0,441.8 L360.0,441.8 L370.0,441.8 L380.9,441.8 L384.5,451.0 L388.2,460.0 L397.9,456.4 L407.6,452.7 L417.3,452.7 L427.0,453.9 L428.5,465.5 L429.8,477.0 L430.0,486.8M397.9,353.4 L400.3,342.5 L407.6,340.0 L413.7,341.8 L419.8,343.7 L430.0,345.0 L440.0,343.0 L451.6,340.0 L460.0,341.0 L468.7,342.5 L478.4,338.5 L485.7,343.7M439.5,284.0 L444.3,293.8 L445.5,300.0 L446.8,306.0 L452.8,310.8 L458.9,315.7 L463.8,321.8 L468.7,327.9 L473.5,332.7 L478.4,337.6 L485.7,343.7M485.7,343.7 L493.0,344.3 L500.3,344.9 L506.4,348.5 L512.5,352.2 L518.5,351.0 L524.6,349.8 L530.7,348.5 L536.8,347.3 L541.6,345.5 L546.5,343.7 L551.4,343.1 L556.3,342.5M563.6,254.7 L563.6,250.0 L561.0,257.0 L558.7,264.6 L555.0,270.7 L551.4,276.8 L547.8,281.6 L544.1,286.5 L542.9,292.6 L541.7,298.7 L538.0,303.5 L534.4,308.4 L536.5,312.0 L541.7,315.7 L546.5,324.0 L551.4,332.7 L553.8,337.6 L556.3,342.5M563.6,254.7 L564.5,246.0 L566.0,238.0 L568.5,231.0 L572.0,224.5 L577.0,220.5 L582.5,220.0M563.6,254.7 L570.0,253.5 L576.0,252.5 L581.0,253.0 L586.4,252.9 L592.0,257.0 L598.0,261.5 L604.0,265.0 L610.0,268.0 L614.5,270.5 L617.8,271.4M617.8,271.4 L614.0,275.0 L612.2,279.0 L613.0,283.0 L616.0,286.5 L620.0,291.5 L626.0,296.0 L632.0,300.5 L638.7,303.3 L644.7,305.7 L650.8,308.1 L657.0,310.5 L663.0,313.0 L670.3,313.0 L666.5,318.0 L663.0,322.7 L658.2,327.6 L653.3,332.5 L648.4,336.2 L643.5,339.8 L637.5,341.0 L631.4,342.2 L625.3,344.6 L619.2,347.0 L614.4,348.2 L609.5,349.5M556.3,342.5 L563.6,343.7 L570.9,344.9 L578.2,347.3 L585.5,349.8 L590.4,351.0 L595.2,352.2 L602.5,349.8 L609.5,349.5M609.5,349.5 L607.6,352.0 L607.6,362.0 L607.6,372.0 L607.6,382.0 L607.6,392.0 L607.6,402.5 L612.3,403.0M546.5,343.7 L544.0,347.3 L545.2,353.0 L546.5,359.5 L547.8,365.6 L549.0,371.7 L545.0,378.0 L541.0,386.0M512.5,352.2 L513.3,355.0 L512.5,364.4 L510.0,368.0 L507.6,371.7 L505.0,376.0 L502.7,380.0 L500.8,385.0 L500.3,392.0 L501.5,397.0M501.5,397.0 L509.6,396.2 L522.5,396.2M501.5,397.0 L499.5,401.6 L497.0,406.0 L495.4,410.0 L497.5,414.0 L499.2,418.7 L503.0,419.5 L506.0,417.0 L508.5,412.0 L510.0,408.0 L507.0,404.0 L509.6,400.0 L509.6,396.2M499.2,407.5 L503.5,408.0 L508.5,408.5M540.5,396.0 L548.0,401.0 L556.0,406.0 L566.0,413.8 L572.0,417.8 L578.2,421.0 L583.0,424.5 L588.6,429.0M490.6,464.9 L499.0,464.2 L507.6,463.7 L513.7,465.5 L519.8,467.3 L525.8,471.0 L531.9,474.6 L536.8,475.8 L541.7,477.0 L546.0,482.0M430.0,486.8 L438.0,487.0 L448.0,494.8 L449.2,489.2 L454.0,491.7 L458.9,494.1 L467.4,494.7 L476.0,495.3 L479.6,498.3 L483.3,501.4 L488.1,503.8 L493.0,506.3 L496.6,508.1 L500.3,509.9 L500.3,504.4 L500.3,499.0 L495.4,496.5 L490.6,494.1 L490.0,483.0 L489.3,472.2 L490.6,464.9M448.0,494.8 L448.0,503.5 L448.0,513.2 L439.0,513.2 L429.5,513.2 L429.5,526.0M546.5,492.9 L553.8,493.5 L561.1,494.1 L568.4,492.9 L575.7,491.7 L583.0,489.2 L590.3,486.8 L595.0,485.5 L600.0,484.4M541.7,477.0 L543.0,484.0 L544.0,490.0 L546.5,492.9M534.4,477.0 L534.4,488.0 L534.4,499.0 L533.2,507.5 L531.9,516.0 L530.5,526.0M546.5,492.9 L548.0,505.0 L552.0,515.0 L556.0,522.0 L558.0,526.0M543.2,97.9 L546.0,105.0 L548.0,110.0 L549.6,113.4M556.9,81.5 L555.5,86.0 L555.0,89.7 L554.6,93.0 L554.2,96.0 L553.3,100.5 L552.3,105.2 L551.0,109.5 L549.6,113.4M557.8,66.9 L560.5,66.0 L563.3,66.4 L564.7,69.6 L563.5,71.5 L562.4,73.2 L561.0,75.5 L559.6,77.8 L558.2,78.8 L556.9,79.6 L556.9,81.5M556.9,81.5 L558.7,84.2 L563.0,86.0 L567.0,87.0 L572.0,85.0 L576.0,82.5 L580.5,80.0 L585.0,77.8 L587.3,76.3M587.3,76.3 L585.4,78.3 L587.3,84.0 L589.3,90.0 L598.0,93.0 L606.8,95.8 L616.5,99.7 L626.3,103.6 L632.0,108.5 L637.9,113.3 L644.6,117.8M589.3,90.0 L585.0,90.6 L577.0,92.8 L568.8,95.1 L572.5,99.5 L577.0,104.3 L571.5,108.8 L566.0,111.5 L562.4,114.3 L556.0,114.3 L549.6,114.3M644.6,117.8 L652.0,118.3 L660.8,115.8 L665.7,108.5 L670.6,109.5M644.6,117.8 L650.0,121.0 L656.0,122.5 L663.0,123.4M587.3,76.3 L593.0,73.4 L599.0,70.5 L603.0,67.5 L606.8,64.0M622.0,235.0 L629.2,224.9 L635.0,226.5 L641.0,228.5 L647.0,230.3 L653.5,232.2 L656.0,242.0 L662.0,235.0 L667.0,229.0 L672.0,222.7 L677.9,216.4 L685.0,215.0 L692.0,213.8 L700.0,212.6 L707.0,211.5M707.0,211.5 L710.0,218.5 L713.5,225.5 L716.8,232.2M707.0,211.5 L714.0,209.8 L721.0,208.0 L728.0,205.9 L735.0,201.8 L737.0,196.0 L739.0,190.0 L741.1,183.5 L738.5,180.0 L736.3,177.4 L730.0,176.5 L724.0,175.5 L718.0,174.8 L712.0,173.8 L708.0,167.5 L704.6,161.6M741.1,183.5 L744.0,177.0 L743.0,170.0 L741.0,164.5 L745.0,159.0 L747.5,156.0M699.0,152.5 L702.0,153.6 L704.0,156.0" fill="none" stroke="#454545" stroke-width="0.95" stroke-linejoin="round"/><path d="M172.6,54.9 L176.3,56.0 L178.7,55.5 L183.0,56.5 L188.4,57.4 L193.0,59.5 L198.1,61.0 L203.0,62.5 L207.9,63.0 L212.0,62.0 L217.6,59.8 L222.0,57.5 L227.3,54.9 L232.0,52.8 L237.0,51.3 L244.6,48.5 L251.7,48.3 L259.2,46.6 L266.3,46.2 L273.8,45.4 L280.9,45.2 L288.4,44.2 L295.5,44.0 L303.0,42.8 L310.3,41.5 L314.9,41.2 L317.6,40.3 L320.5,41.5 L323.7,42.8 L326.5,43.5 L328.5,45.2 L326.1,48.8 L322.5,52.5 L320.5,56.0 L320.0,58.6 L318.0,62.0 L317.6,64.0 L318.5,67.1 L320.5,71.0 L322.5,74.4 L327.3,78.0 L332.2,80.5 L339.5,82.9 L345.0,83.5 L351.7,84.1 L358.0,85.8 L363.8,87.8 L371.1,91.4 L376.0,94.0 L380.9,96.3 L386.0,99.0 L390.6,101.2 L396.0,103.8 L400.3,106.0 L405.0,106.3 L410.0,103.6 L412.5,97.0 L414.9,91.4 L418.0,87.5 L422.2,85.3 L430.0,82.9 L435.0,83.6 L439.5,85.3 L444.0,87.0 L449.2,89.0 L456.5,92.6 L462.0,94.0 L468.7,95.1 L474.0,96.2 L480.8,97.5 L487.0,98.8 L493.0,100.0 L497.0,99.0 L501.7,97.8 L505.5,96.3 L509.5,94.8 L514.0,95.0 L519.2,95.8 L523.0,96.8 L527.0,97.8 L531.0,98.6 L534.8,98.7 L538.5,98.4 L542.6,97.8 L545.0,95.1 L546.5,92.5 L547.8,89.7 L549.2,86.0 L550.5,82.4 L552.0,78.5 L553.2,75.0 L554.6,71.8 L556.0,68.7 L558.0,66.5 L559.6,65.0 L560.0,63.8 L575.0,63.8 L590.0,63.8 L606.0,63.8 L620.0,64.6 L635.0,64.4 L651.8,63.6 L649.0,66.5 L647.4,69.5 L648.0,73.0 L648.7,76.8 L653.0,80.5 L658.4,84.1 L662.0,87.5 L665.7,91.4 L667.0,96.0 L668.1,101.2 L669.0,105.0 L670.6,108.5 L676.9,110.4 L672.3,112.5 L673.0,116.0 L673.0,118.2 L676.5,123.0 L680.3,127.9 L684.0,132.5 L687.6,137.6 L690.0,142.2 L692.5,146.0 L694.9,149.5 L697.2,152.0 L697.8,147.0 L698.6,143.5 L701.0,141.5 L703.6,143.8 L705.0,148.5 L705.0,153.0 L703.5,157.5 L704.6,161.6 L709.0,162.8 L714.4,162.8 L720.0,161.5 L726.5,159.2 L730.5,157.0 L733.8,154.3 L737.5,150.5 L741.1,147.0 L744.0,144.5 L746.8,142.5 L748.3,146.0 L748.0,150.5 L747.5,155.0 L750.0,159.5 L755.0,163.8 L760.6,167.5 L765.0,168.4 L768.0,169.0 L771.5,172.0 L775.0,175.5 L779.5,179.0 L778.0,183.0 L775.2,188.4 L772.5,192.0 L770.3,195.7 L768.0,198.5 L765.4,200.6 L762.5,205.0 L760.6,209.5 L757.5,212.7 L752.0,216.0 L746.0,220.0 L741.0,222.5 L736.3,224.9 L731.0,226.3 L726.5,227.3 L721.0,229.7 L716.8,232.2 L713.0,234.5 L709.5,237.0 L705.5,241.0 L702.0,244.4 L697.0,246.5 L691.5,248.0 L687.3,249.7 L682.0,252.2 L677.0,254.5 L672.7,257.0 L667.0,258.6 L660.8,259.5 L654.5,260.9 L649.0,262.6 L644.4,264.3 L639.0,266.0 L634.3,267.6 L630.0,268.8 L627.3,269.5 L626.2,265.0 L625.9,262.6 L625.4,258.0 L625.0,254.2 L624.6,250.0 L624.2,245.8 L623.5,241.5 L622.5,237.3 L621.0,233.0 L619.1,228.9 L616.8,225.5 L614.1,222.2 L611.5,219.0 L609.0,215.5 L607.5,212.0 L605.7,208.7 L603.0,205.2 L600.6,202.0 L598.0,199.5 L595.6,196.9 L593.0,192.5 L590.5,188.5 L588.8,183.5 L587.1,178.4 L585.5,174.0 L583.8,170.0 L581.0,167.0 L578.2,164.1 L574.5,160.5 L570.9,156.8 L567.3,152.0 L563.6,147.0 L560.0,142.0 L556.3,137.3 L553.8,133.5 L551.4,130.0 L550.6,124.0 L550.6,118.0 L550.2,114.6 L549.2,114.4 L548.2,118.0 L547.0,123.0 L544.8,127.5 L542.8,131.0 L540.0,128.5 L537.0,124.0 L534.0,120.0 L531.0,116.0 L528.5,112.5 L527.0,110.0 L526.5,112.5 L528.5,116.5 L531.0,120.5 L534.0,124.5 L536.5,128.0 L538.5,131.5 L540.0,135.5 L541.7,139.7 L544.5,144.0 L547.0,148.0 L549.0,151.9 L551.5,156.5 L553.5,161.5 L555.2,166.0 L556.2,170.0 L558.5,173.5 L561.9,176.7 L565.5,181.0 L568.6,185.2 L569.9,189.5 L570.3,193.6 L570.0,198.5 L569.8,203.7 L571.0,207.5 L572.0,210.4 L574.5,213.0 L577.0,215.5 L579.5,218.0 L582.1,220.5 L583.8,223.0 L585.5,225.6 L588.0,229.8 L590.5,234.0 L593.0,238.2 L595.6,242.4 L599.0,245.8 L602.3,249.1 L605.6,252.5 L609.0,255.9 L611.5,259.3 L614.1,262.6 L616.6,265.1 L619.1,267.6 L621.6,269.3 L624.0,271.0 L621.0,273.0 L617.4,276.0 L615.3,278.5 L614.1,281.1 L615.5,284.0 L617.4,286.2 L620.5,287.2 L624.2,287.8 L626.5,286.5 L630.0,287.5 L633.8,288.7 L637.5,289.5 L641.1,289.9 L647.0,288.3 L653.3,286.2 L658.0,285.0 L663.0,283.8 L669.0,282.6 L675.2,281.4 L681.0,280.2 L687.3,278.9 L691.0,277.4 L694.6,276.0 L697.0,275.8 L699.5,276.5 L700.5,280.0 L700.7,283.8 L700.3,287.5 L699.5,291.1 L697.3,294.7 L694.6,298.4 L692.2,303.2 L689.8,308.1 L687.4,313.0 L684.9,317.9 L681.3,324.0 L677.6,330.0 L674.0,336.0 L670.3,342.2 L666.7,347.0 L663.0,351.9 L658.2,356.8 L653.3,361.7 L649.6,365.8 L646.0,370.0 L641.1,372.0 L637.5,373.5 L633.8,374.9 L630.1,378.5 L626.5,382.2 L622.8,385.8 L619.2,389.5 L615.5,394.3 L611.9,399.2 L608.2,402.8 L604.6,406.5 L601.0,410.0 L597.3,413.8 L594.7,419.5 L593.2,424.0 L591.5,427.0 L590.3,430.0 L589.0,435.0 L587.9,440.6 L589.0,446.5 L589.8,450.0 L590.3,452.7 L591.5,457.5 L592.7,462.5 L594.0,467.3 L595.2,472.2 L597.5,477.0 L600.0,481.9 L600.8,486.5 L601.3,491.7 L601.3,497.5 L601.3,503.8 L601.8,510.0 L602.5,516.0 L603.2,521.0 L603.7,526.0 L340.5,526.0 L340.7,524.5 L341.9,518.4 L343.0,514.5 L344.4,511.1 L347.0,507.5 L349.2,503.8 L350.8,500.0 L351.7,496.5 L351.8,491.5 L351.7,486.8 L350.5,482.0 L349.2,477.1 L347.8,473.0 L346.8,469.8 L348.5,467.5 L349.2,464.9 L347.5,460.0 L345.6,455.2 L343.8,451.5 L341.9,447.9 L340.8,445.0 L339.5,441.8 L338.2,438.7 L337.0,435.7 L335.8,432.0 L334.6,428.4 L332.2,424.7 L329.8,421.1 L326.0,417.4 L322.5,413.8 L318.8,410.0 L315.2,406.5 L312.7,401.6 L310.3,396.8 L308.5,394.0 L307.5,392.0 L309.0,389.5 L311.0,385.0 L312.7,379.7 L313.5,375.0 L313.2,371.7 L314.0,368.0 L314.0,364.4 L314.8,360.5 L315.2,357.0 L314.6,353.5 L314.0,349.8 L312.2,348.0 L310.3,346.1 L307.8,344.2 L305.4,342.5 L303.0,342.3 L300.6,342.5 L297.0,343.8 L293.3,344.9 L289.6,345.2 L286.0,344.9 L282.4,342.5 L278.7,340.0 L276.2,337.6 L273.8,335.2 L271.3,332.8 L268.9,330.3 L264.0,328.8 L259.2,327.4 L254.4,327.3 L249.5,327.4 L244.6,327.6 L239.7,327.9 L237.2,330.3 L234.6,332.7 L229.8,334.5 L224.9,336.4 L220.0,338.2 L215.2,340.0 L210.3,341.5 L207.5,343.0 L205.5,342.0 L200.6,340.6 L195.7,339.5 L191.0,340.0 L186.0,340.5 L181.0,341.5 L176.3,342.5 L171.4,343.7 L166.5,344.9 L161.6,345.5 L156.8,346.1 L151.9,344.3 L147.1,342.5 L142.2,340.0 L137.3,337.6 L133.6,334.0 L130.0,330.3 L126.3,326.6 L122.7,323.0 L119.0,321.2 L115.4,319.3 L111.7,317.5 L108.1,315.7 L105.7,312.0 L103.3,308.4 L100.8,304.7 L98.4,300.0 L97.1,293.9 L93.7,290.5 L90.4,287.1 L87.0,283.8 L84.0,281.5 L80.5,278.5 L77.5,276.5 L75.2,274.5 L72.7,272.0 L71.0,269.5 L70.6,265.3 L72.7,262.7 L71.8,261.0 L70.2,256.8 L67.6,251.8 L64.3,250.6 L66.5,248.2 L69.0,246.5 L71.6,244.4 L73.5,240.8 L75.3,237.1 L76.0,233.5 L76.5,229.8 L76.7,226.0 L76.5,222.5 L76.0,218.8 L75.3,215.2 L74.0,211.5 L72.8,207.9 L73.3,205.0 L74.0,201.8 L75.5,199.0 L73.5,197.3 L71.6,195.7 L69.5,193.0 L68.0,189.6 L69.0,185.3 L70.4,181.1 L73.5,177.5 L76.5,173.8 L77.7,170.2 L78.9,166.5 L83.8,161.7 L88.7,156.8 L90.5,150.7 L92.3,144.6 L95.4,141.1 L98.4,137.7 L101.5,134.0 L104.5,130.6 L107.5,129.5 L110.6,128.4 L114.2,127.0 L117.9,125.5 L121.5,123.0 L125.2,120.6 L127.6,116.3 L130.0,112.0 L133.0,107.2 L136.0,102.4 L135.5,100.5 L135.0,98.7 L136.1,93.8 L137.3,89.0 L139.8,85.3 L142.2,81.7 L148.3,78.0 L154.4,74.4 L159.2,71.3 L164.0,68.3 L166.5,64.6 L169.0,61.0 L170.8,58.0 L172.6,54.9Z" fill="none" stroke="#1a1a1a" stroke-width="1"/><path d="M665.0,526.0 L666.5,521.0 L668.5,517.0 L670.3,513.6 L672.0,510.0 L674.0,506.3 L676.5,502.5 L678.8,499.0 L680.5,497.5 L682.0,496.2 L683.5,498.0 L685.0,501.0 L686.1,503.8 L687.0,508.0 L688.5,513.6 L689.3,518.0 L690.2,524.5 L690.5,526.0" fill="none" stroke="#1a1a1a" stroke-width="1"/><path d="M141.3,17.0 L140.6,20.0 L139.7,23.3 L141.0,26.0 L142.2,28.2 L143.5,30.5 L144.6,33.0 L143.4,37.9 L144.5,40.5 L145.8,42.8 L150.0,42.6 L154.3,42.8 L158.0,42.5 L161.6,42.8 L164.0,43.6 L166.5,45.2 L167.5,47.5 L168.9,50.0 L171.0,52.0 L173.8,53.7 L177.0,53.2 L181.1,52.5 L186.0,51.5 L190.8,50.0 L197.0,48.2 L203.0,46.4 L207.0,44.5 L210.3,42.8 L214.0,40.3 L217.6,37.9 L220.5,35.5 L222.5,33.0 L222.2,30.5 L222.5,28.2 L224.6,25.7 L227.3,23.3 L229.8,21.3 L232.2,19.6 L235.0,18.0 L237.0,17.0M161.6,17.0 L160.8,21.0 L159.2,25.7 L160.0,29.5 L160.4,33.0 L158.6,36.5 L156.8,40.3 L159.2,42.8M249.5,20.0 L253.0,18.5 L258.5,19.5 L259.0,22.0 L255.0,23.2 L251.0,22.5 L249.5,20.0ZM236.0,25.0 L238.5,24.3 L239.0,26.5 L236.5,27.0 L236.0,25.0ZM262.0,17.8 L265.0,17.5 L265.3,19.0 L262.5,19.3 L262.0,17.8ZM303.0,17.0 L302.3,20.0 L302.7,23.0 L305.0,25.7 L309.0,25.5 L312.5,24.0 L314.6,21.0 L315.0,17.0M341.9,35.5 L345.0,34.3 L349.7,33.5 L354.0,33.0 L359.5,32.5 L364.0,32.8 L369.2,33.5 L368.5,36.5 L367.3,39.4 L366.5,42.5 L365.3,45.2 L362.0,44.0 L359.5,43.3 L355.5,42.2 L351.7,41.3 L347.5,39.8 L343.9,38.4 L341.9,35.5ZM373.1,17.0 L375.0,20.5 L377.0,23.8 L376.2,26.0 L375.0,27.7 L377.0,28.2 L378.9,27.7 L382.0,25.5 L384.8,23.8 L384.5,20.5 L382.8,17.0M406.0,17.0 L409.0,19.5 L412.2,22.1 L414.8,24.6 L417.0,27.0 L416.2,29.5 L415.8,31.8 L418.2,34.2 L421.9,34.2 L423.0,36.5 L424.3,39.1 L425.5,42.8 L427.5,45.0 L429.2,46.4 L431.5,46.0 L434.0,47.6 L436.5,49.5 L438.9,51.3 L439.8,49.0 L440.1,47.6 L439.2,45.0 L438.9,42.8 L441.0,41.5 L442.6,40.3 L442.0,38.5 L441.4,36.7 L439.0,35.5 L436.5,34.2 L433.0,33.6 L430.4,33.0 L428.0,32.2 L426.8,31.8 L429.5,30.8 L433.0,30.6 L436.0,29.5 L438.5,28.0 L440.1,25.7 L437.5,24.2 L436.5,23.3 L434.5,21.5 L436.0,19.5 L437.0,17.0M439.0,17.0 L440.5,19.5 L442.5,21.0 L444.0,23.5 L446.2,26.5 L446.2,30.6 L448.5,32.5 L451.1,34.2 L453.5,36.0 L456.0,37.9 L458.5,38.5 L460.8,39.1 L458.0,36.5 L455.0,34.0 L452.0,31.5 L449.5,29.0 L447.5,26.0 L446.0,23.0 L444.5,20.0 L443.0,17.0ZM447.0,17.0 L449.0,18.5 L452.0,19.0 L455.0,18.0 L458.0,17.0M455.0,21.5 L458.0,21.0 L459.5,22.8 L456.5,23.8ZM461.0,19.5 L463.5,19.2 L464.0,21.0 L461.5,21.5ZM449.0,36.5 L451.0,36.0 L451.8,37.6 L449.6,38.0ZM452.0,40.0 L454.5,39.5 L455.2,41.3 L452.6,41.6ZM456.5,42.5 L459.0,42.0 L459.8,43.8 L457.0,44.2ZM461.0,40.5 L463.5,40.0 L464.2,41.8 L461.6,42.2ZM463.5,44.5 L466.5,44.0 L467.3,46.0 L464.2,46.4ZM468.0,38.0 L470.5,37.6 L471.2,39.4 L468.6,39.8ZM470.0,44.0 L472.5,43.5 L473.2,45.3 L470.6,45.7ZM466.0,26.0 L468.8,25.3 L469.8,27.5 L467.0,28.3ZM469.0,30.0 L472.0,29.5 L473.0,31.7 L470.0,32.3ZM472.0,35.0 L474.5,34.5 L475.3,36.5 L472.7,37.0ZM476.0,47.5 L478.5,47.0 L479.2,48.8 L476.6,49.2ZM480.0,50.0 L482.5,49.6 L483.0,51.2 L480.6,51.6ZM446.0,46.5 L447.8,46.2 L448.2,47.6 L446.4,47.9ZM458.0,48.0 L460.0,47.7 L460.4,49.2 L458.4,49.5ZM465.7,17.0 L468.0,20.5 L470.6,23.3 L472.0,25.5 L473.0,28.2 L474.5,30.5 L475.4,33.0 L477.0,35.5 L479.0,37.9 L481.0,40.5 L482.7,42.8 L485.0,44.0 L487.6,45.2 L491.0,46.4 L494.9,47.6M445.1,57.8 L449.0,57.2 L452.9,57.8 L456.8,58.8 L460.7,59.8 L464.6,60.2 L468.5,60.8 L468.5,62.7 L462.7,62.9 L456.8,62.7 L452.0,61.7 L447.1,60.8 L445.1,57.8ZM494.9,47.6 L495.8,49.1 L498.8,50.6 L501.7,52.0 L505.6,49.0 L509.5,46.2 L513.4,46.6 L517.3,47.1 L521.2,48.6 L525.0,50.1 L528.9,50.6 L532.8,51.0 L536.7,50.0 L540.6,49.1 L544.5,48.1 L548.4,47.1 L552.3,46.6 L556.2,46.2 L558.0,46.8 L560.0,48.1 L558.5,50.5 L558.5,53.0 L558.7,55.0 L559.0,57.5 L559.2,59.6 L559.4,62.0 L559.6,63.8M525.0,61.7 L528.9,59.8 L532.8,59.3 L536.7,58.8 L540.6,57.8 L544.5,56.9 L542.5,59.8 L540.6,62.7 L537.7,63.7 L534.8,64.7 L530.9,65.2 L527.0,65.6 L525.0,61.7ZM560.0,48.1 L564.0,47.6 L567.9,47.1 L572.8,46.6 L577.6,46.2 L582.5,45.7 L587.3,45.2 L592.2,44.7 L597.1,44.2 L601.9,43.7 L606.8,43.3 L610.7,42.8 L614.6,42.3 L618.5,41.3 L622.4,41.3 L626.3,41.3 L632.0,40.4 L637.9,39.4 L639.0,40.3M618.5,41.3 L613.6,45.2 L608.7,49.1 L607.7,52.0 L606.8,54.9 L606.8,60.0 L606.8,64.0M637.7,17.0 L636.5,21.5 L635.3,25.7 L635.9,29.4 L636.5,33.0 L637.7,36.7 L639.0,40.3 L641.4,44.0 L643.8,47.6 L647.4,51.3 L651.0,54.9 L651.7,58.5 L652.3,62.2 L651.8,63.6M637.7,17.0 L643.0,21.5 L648.7,25.7 L655.0,24.0 L661.0,22.0 L666.0,21.0 L670.6,20.9 L672.0,24.0 L673.0,27.0M673.0,27.0 L676.5,32.5 L680.3,37.9 L686.4,40.4 L692.5,42.8 L698.6,45.2 L704.6,47.6 L709.5,47.0 L714.3,46.4 L719.2,45.8 L724.0,45.2 L730.0,40.3 L736.3,35.5 L743.6,34.2 L750.9,33.0 L760.6,35.5 L770.3,37.9 L775.2,41.0 L781.0,44.0M670.6,108.5 L675.5,107.2 L680.3,106.0 L685.0,107.2 L690.0,108.5 L693.6,113.4 L697.3,118.2 L701.0,121.9 L704.6,125.5 L709.5,129.2 L714.4,132.8 L719.0,135.0 L723.0,136.5 L729.0,137.4 L735.0,137.3 L741.1,136.4 L745.0,136.2 L748.0,137.0 L750.9,138.5 L753.0,141.5 L755.0,145.0 L758.2,147.0 L764.0,148.3 L770.3,149.5 L775.0,150.5 L781.0,151.8" fill="none" stroke="#2a2a2a" stroke-width="0.9" stroke-linejoin="round"/><path d="M92.2,127.5 L94.0,125.0 L96.5,121.5 L99.0,118.5 L101.8,114.8 L102.6,116.5 L100.5,120.0 L98.0,124.0 L95.5,127.0 L93.2,128.3ZM79.2,128.0 L80.2,126.3 L82.5,126.0 L84.0,127.5 L83.4,129.8 L81.0,130.5 L79.5,129.8ZM69.6,124.5 L72.5,123.2 L75.5,122.5 L77.0,122.8 L74.5,125.5 L72.5,127.8 L70.5,126.5ZM65.5,126.5 L67.5,126.0 L67.8,127.8 L66.0,128.2ZM59.6,120.5 L61.5,120.3 L61.7,122.5 L60.5,123.3 L59.5,122.2ZM57.8,129.8 L59.8,129.3 L60.0,130.8 L58.2,131.2ZM66.0,83.2 L68.5,82.4 L71.5,83.0 L72.8,84.0 L70.0,84.8 L67.0,84.6ZM74.4,80.5 L75.5,80.3 L75.7,81.3 L74.6,81.4ZM357.2,53.3 L358.6,53.0 L358.8,54.3 L357.4,54.5ZM325.5,74.2 L327.5,73.6 L328.0,75.2 L326.0,75.8ZM329.0,66.0 L330.5,65.5 L331.0,67.0 L329.5,67.5ZM303.5,352.5 L306.0,351.5 L307.8,353.5 L307.0,356.8 L304.5,357.0 L303.5,354.5ZM286.8,382.5 L288.5,382.0 L289.2,384.0 L287.5,385.0ZM294.2,371.0 L295.2,370.8 L295.4,372.0 L294.4,372.2ZM719.0,270.0 L723.0,268.8 L728.0,269.0 L731.0,270.5 L728.0,272.5 L723.0,272.5 L719.0,271.5ZM711.0,270.5 L713.0,270.2 L713.2,271.5 L711.2,271.8ZM592.5,433.0 L594.5,432.8 L595.0,436.0 L593.2,437.8ZM593.8,424.5 L595.3,424.3 L595.5,428.0 L594.0,428.5ZM594.0,446.0 L595.5,445.8 L595.5,448.5 L594.2,448.7ZM626.5,492.5 L628.0,493.0 L628.5,496.5 L627.0,497.0ZM630.5,499.5 L632.0,499.5 L632.2,501.0 L630.7,501.2ZM637.0,498.5 L638.5,498.5 L638.6,500.0 L637.2,500.2ZM643.0,503.0 L644.5,503.0 L644.6,505.0 L643.2,505.2ZM737.0,427.0 L739.0,426.5 L739.5,428.5 L737.5,429.0ZM741.0,426.0 L742.5,425.8 L742.7,427.2 L741.2,427.4ZM718.0,437.0 L719.0,437.0 L719.0,438.0 L718.0,438.0ZM749.0,452.0 L750.0,452.0 L750.0,453.0 L749.0,453.0ZM749.5,482.0 L750.8,482.0 L750.8,483.3 L749.5,483.3ZM654.0,473.0 L656.0,473.0 L656.0,474.5 L654.0,474.5ZM666.0,478.0 L667.0,478.0 L667.0,479.0 L666.0,479.0ZM697.0,471.0 L698.0,471.0 L698.0,472.5 L697.0,472.5Z" fill="#e9dc9a" stroke="#2a2a2a" stroke-width="0.9"/><path d="M74.0,276.0 L77.0,275.5 L78.0,278.0 L75.5,279.5ZM76.5,280.0 L79.0,279.2 L80.0,281.5 L77.5,282.5ZM80.0,282.5 L83.0,282.0 L83.5,284.5 L80.5,285.0ZM78.5,277.0 L81.0,276.6 L81.5,278.6 L79.0,279.0ZM596.0,238.0 L600.0,237.0 L603.0,240.0 L604.0,245.0 L601.0,247.0 L597.0,244.0ZM611.0,229.0 L616.0,229.5 L617.5,233.5 L613.0,234.0ZM602.0,247.5 L605.0,247.0 L606.0,249.5 L603.0,250.0Z" fill="#111" stroke="#111" stroke-width="0.6"/><rect x="114.2" y="34.8" width="223.6" height="93.4" fill="none" stroke="#8e8e8e" stroke-width="1.05"/><rect x="42.2" y="200.4" width="554.0" height="113.2" fill="none" stroke="#8e8e8e" stroke-width="1.05"/><rect x="596.2" y="274.6" width="111.4" height="112.2" fill="none" stroke="#8e8e8e" stroke-width="1.05"/></g><rect x="41" y="17" width="740" height="508" fill="none" stroke="#000" stroke-width="2"/><path d="M41.0,525V533M133.5,9V17M133.5,525V533M226.0,9V17M226.0,525V533M318.5,9V17M318.5,525V533M411.0,9V17M411.0,525V533M503.5,9V17M503.5,525V533M596.0,9V17M596.0,525V533M688.5,9V17M688.5,525V533M781.0,9V17M781.0,525V533M33,17.0H41M33,109.5H41M781,109.5H789M33,202.0H41M781,202.0H789M33,294.5H41M781,294.5H789M33,387.0H41M781,387.0H789M33,479.5H41M781,479.5H789" stroke="#000" stroke-width="1.6" fill="none"/><g font-family="Liberation Sans, Arial, sans-serif" font-size="8.8" fill="#000" stroke="#000" stroke-width="0.15"><text x="41.0" y="541.3" text-anchor="middle" textLength="33.9" lengthAdjust="spacingAndGlyphs">20°0'0&quot;W</text><text x="133.5" y="6.6" text-anchor="middle" textLength="33.9" lengthAdjust="spacingAndGlyphs">10°0'0&quot;W</text><text x="133.5" y="541.3" text-anchor="middle" textLength="33.9" lengthAdjust="spacingAndGlyphs">10°0'0&quot;W</text><text x="226.0" y="6.6" text-anchor="middle" textLength="21.6" lengthAdjust="spacingAndGlyphs">0°0'0&quot;</text><text x="226.0" y="541.3" text-anchor="middle" textLength="21.6" lengthAdjust="spacingAndGlyphs">0°0'0&quot;</text><text x="318.5" y="6.6" text-anchor="middle" textLength="31.7" lengthAdjust="spacingAndGlyphs">10°0'0&quot;E</text><text x="318.5" y="541.3" text-anchor="middle" textLength="31.7" lengthAdjust="spacingAndGlyphs">10°0'0&quot;E</text><text x="411.0" y="6.6" text-anchor="middle" textLength="31.7" lengthAdjust="spacingAndGlyphs">20°0'0&quot;E</text><text x="411.0" y="541.3" text-anchor="middle" textLength="31.7" lengthAdjust="spacingAndGlyphs">20°0'0&quot;E</text><text x="503.5" y="6.6" text-anchor="middle" textLength="31.7" lengthAdjust="spacingAndGlyphs">30°0'0&quot;E</text><text x="503.5" y="541.3" text-anchor="middle" textLength="31.7" lengthAdjust="spacingAndGlyphs">30°0'0&quot;E</text><text x="596.0" y="6.6" text-anchor="middle" textLength="31.7" lengthAdjust="spacingAndGlyphs">40°0'0&quot;E</text><text x="596.0" y="541.3" text-anchor="middle" textLength="31.7" lengthAdjust="spacingAndGlyphs">40°0'0&quot;E</text><text x="688.5" y="6.6" text-anchor="middle" textLength="31.7" lengthAdjust="spacingAndGlyphs">50°0'0&quot;E</text><text x="688.5" y="541.3" text-anchor="middle" textLength="31.7" lengthAdjust="spacingAndGlyphs">50°0'0&quot;E</text><text x="781.0" y="6.6" text-anchor="middle" textLength="31.7" lengthAdjust="spacingAndGlyphs">60°0'0&quot;E</text><text x="781.0" y="541.3" text-anchor="middle" textLength="31.7" lengthAdjust="spacingAndGlyphs">60°0'0&quot;E</text><text x="31.9" y="20.1" text-anchor="end" textLength="32.1" lengthAdjust="spacingAndGlyphs">40°0'0&quot;N</text><text x="31.9" y="112.6" text-anchor="end" textLength="32.1" lengthAdjust="spacingAndGlyphs">30°0'0&quot;N</text><text x="789.5" y="112.6" textLength="32.1" lengthAdjust="spacingAndGlyphs">30°0'0&quot;N</text><text x="31.9" y="205.1" text-anchor="end" textLength="32.1" lengthAdjust="spacingAndGlyphs">20°0'0&quot;N</text><text x="789.5" y="205.1" textLength="32.1" lengthAdjust="spacingAndGlyphs">20°0'0&quot;N</text><text x="31.9" y="297.6" text-anchor="end" textLength="32.1" lengthAdjust="spacingAndGlyphs">10°0'0&quot;N</text><text x="789.5" y="297.6" textLength="32.1" lengthAdjust="spacingAndGlyphs">10°0'0&quot;N</text><text x="31.9" y="390.1" text-anchor="end" textLength="21.6" lengthAdjust="spacingAndGlyphs">0°0'0&quot;</text><text x="789.5" y="390.1" textLength="21.6" lengthAdjust="spacingAndGlyphs">0°0'0&quot;</text><text x="31.9" y="482.6" text-anchor="end" textLength="31.7" lengthAdjust="spacingAndGlyphs">10°0'0&quot;S</text><text x="789.5" y="482.6" textLength="31.7" lengthAdjust="spacingAndGlyphs">10°0'0&quot;S</text></g><text x="307.5" y="570.5" font-family="Liberation Sans, Arial, sans-serif" font-weight="bold" font-size="19.4" fill="#000">explained variance (%)</text><rect x="308.6" y="586.4" width="38.4" height="19" fill="#dddddd" stroke="#8a8a8a" stroke-width="2"/><text x="354.5" y="600.6" font-family="Liberation Sans, Arial, sans-serif" font-size="13.8" fill="#000" stroke="#000" stroke-width="0.2">flag</text><rect x="308.6" y="612.5" width="38.4" height="19" fill="#ffffbf" stroke="#555" stroke-width="2"/><text x="354.5" y="626.7" font-family="Liberation Sans, Arial, sans-serif" font-size="13.8" fill="#000" stroke="#000" stroke-width="0.2">0 - 30</text><rect x="308.6" y="638.6" width="38.4" height="19" fill="#fed862" stroke="#555" stroke-width="2"/><text x="354.5" y="652.8" font-family="Liberation Sans, Arial, sans-serif" font-size="13.8" fill="#000" stroke="#000" stroke-width="0.2">30 - 40</text><rect x="308.6" y="664.8" width="38.4" height="19" fill="#f7941e" stroke="#555" stroke-width="2"/><text x="354.5" y="679.0" font-family="Liberation Sans, Arial, sans-serif" font-size="13.8" fill="#000" stroke="#000" stroke-width="0.2">40 - 50</text><rect x="308.6" y="691.0" width="38.4" height="19" fill="#f70000" stroke="#555" stroke-width="2"/><text x="354.5" y="705.2" font-family="Liberation Sans, Arial, sans-serif" font-size="13.8" fill="#000" stroke="#000" stroke-width="0.2">50 - 60</text><rect x="418.6" y="586.4" width="38.4" height="19" fill="#ff0a9e" stroke="#555" stroke-width="2"/><text x="464" y="600.6" font-family="Liberation Sans, Arial, sans-serif" font-size="13.8" fill="#000" stroke="#000" stroke-width="0.2">60 - 70</text><rect x="418.6" y="612.5" width="38.4" height="19" fill="#a50aa8" stroke="#555" stroke-width="2"/><text x="464" y="626.7" font-family="Liberation Sans, Arial, sans-serif" font-size="13.8" fill="#000" stroke="#000" stroke-width="0.2">70 - 80</text><rect x="418.6" y="638.6" width="38.4" height="19" fill="#6a1fa0" stroke="#555" stroke-width="2"/><text x="464" y="652.8" font-family="Liberation Sans, Arial, sans-serif" font-size="13.8" fill="#000" stroke="#000" stroke-width="0.2">80 - 90</text><rect x="418.6" y="664.8" width="38.4" height="19" fill="#0c1f8a" stroke="#555" stroke-width="2"/><text x="464" y="679.0" font-family="Liberation Sans, Arial, sans-serif" font-size="13.8" fill="#000" stroke="#000" stroke-width="0.2">90 - 100</text></svg></body></html>
